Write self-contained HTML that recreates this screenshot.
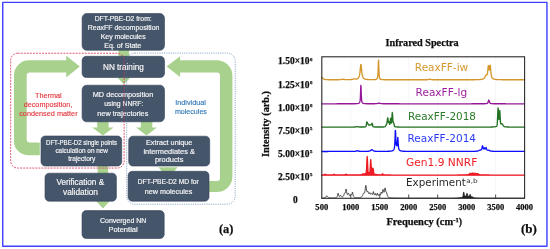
<!DOCTYPE html>
<html lang="en">
<head>
<meta charset="utf-8">
<title>Workflow and Infrared Spectra</title>
<style>
html,body{margin:0;padding:0;background:#fff;}
body{width:550px;height:249px;overflow:hidden;}
svg{display:block;}
.bt{font-family:"Liberation Sans", Arial, sans-serif;fill:#f6f6f6;text-anchor:middle;stroke:#f6f6f6;stroke-width:0.18px;}
.rt{font-family:"Liberation Sans", Arial, sans-serif;fill:#e3343c;text-anchor:middle;stroke:#e3343c;stroke-width:0.12px;}
.blt{font-family:"Liberation Sans", Arial, sans-serif;fill:#2e75b6;text-anchor:middle;stroke:#2e75b6;stroke-width:0.12px;}
.sf{font-family:"Liberation Serif", "Times New Roman", serif;font-weight:bold;fill:#111;stroke:#111;stroke-width:0.25px;}
.dj{font-family:"DejaVu Sans", Verdana, "Liberation Sans", sans-serif;}
</style>
</head>
<body>
<svg width="550" height="249" viewBox="0 0 550 249">
<rect x="0" y="0" width="550" height="249" fill="#ffffff"/>

<g id="fig" filter="url(#soft)">
<defs><filter id="soft" x="-2%" y="-2%" width="104%" height="104%"><feGaussianBlur stdDeviation="0.33"/></filter></defs>
<rect x="2.75" y="2.4" width="544.2" height="243.8" fill="none" stroke="#4040ff" stroke-width="1.4" stroke-linejoin="round"/>
<g fill="#a9d18e">
<path d="M39.8 155.2 H28 A14 14 0 0 1 14 141.2 V75.3 A15 15 0 0 1 29 60.3 H66.2 V55.7 L79.8 66.5 L66.2 77.4 V72.6 H29.7 A3 3 0 0 0 26.7 75.6 V139.4 A3 3 0 0 0 29.7 142.4 H39.8 Z"/>
<path d="M208 192.1 H216.8 A15.6 15.6 0 0 0 232.4 176.5 V75.9 A15.6 15.6 0 0 0 216.8 60.3 H180.1 V56.2 L166.6 66.5 L180.1 77.1 V72.6 H217 A3 3 0 0 1 220 75.6 V178 A3 3 0 0 1 217 181 H208 Z"/>
<rect x="118.5" y="49" width="10.6" height="8"/>
<path d="M117.2 77.5 H130.4 L123.8 84.3 Z"/>
<path d="M97.2 121 H108.6 V127.5 H113.6 L102.9 135.6 L92.2 127.5 H97.2 Z"/>
<path d="M140.8 121 H152.3 V127.5 H156.9 L146.5 135.6 L136 127.5 H140.8 Z"/>
<rect x="97.6" y="165" width="10.5" height="9"/>
<path d="M158.4 167.2 H177.7 L168 178.5 Z"/>
<path d="M96 201 H109.8 L103 208.6 Z"/>
</g>
<rect x="10.7" y="53.25" width="113.45" height="114.8" rx="7" ry="7" fill="none" stroke="#dc4260" stroke-width="0.9" stroke-dasharray="1.9 1.15"/>
<rect x="126.7" y="53.1" width="108.5" height="151.1" rx="8" ry="8" fill="none" stroke="#6a8fb8" stroke-width="0.75" stroke-dasharray="1.15 1.1"/>
<rect x="82.10" y="13.50" width="82.40" height="36.80" rx="4.7" ry="4.7" fill="#44546a" stroke="#36445a" stroke-width="0.6"/>
<rect x="82.10" y="56.30" width="82.40" height="21.20" rx="4.2" ry="4.2" fill="#44546a" stroke="#36445a" stroke-width="0.6"/>
<rect x="82.10" y="85.20" width="82.40" height="36.60" rx="4.7" ry="4.7" fill="#44546a" stroke="#36445a" stroke-width="0.6"/>
<rect x="41.00" y="136.00" width="80.70" height="30.00" rx="4.2" ry="4.2" fill="#44546a" stroke="#36445a" stroke-width="0.6"/>
<rect x="128.70" y="136.20" width="81.00" height="29.80" rx="4.2" ry="4.2" fill="#44546a" stroke="#36445a" stroke-width="0.6"/>
<rect x="45.00" y="173.20" width="71.40" height="28.00" rx="4.2" ry="4.2" fill="#44546a" stroke="#36445a" stroke-width="0.6"/>
<rect x="128.10" y="171.30" width="80.90" height="29.90" rx="4.2" ry="4.2" fill="#44546a" stroke="#36445a" stroke-width="0.6"/>
<rect x="82.00" y="210.60" width="82.20" height="27.90" rx="4.2" ry="4.2" fill="#44546a" stroke="#36445a" stroke-width="0.6"/>
<text class="bt" x="123.20" y="20.80" font-size="7.00" textLength="57.00" lengthAdjust="spacingAndGlyphs">DFT-PBE-D2 from:</text>
<text class="bt" x="123.60" y="30.00" font-size="7.00" textLength="71.60" lengthAdjust="spacingAndGlyphs">ReaxFF decomposition</text>
<text class="bt" x="123.15" y="39.10" font-size="7.00" textLength="44.90" lengthAdjust="spacingAndGlyphs">Key molecules</text>
<text class="bt" x="122.75" y="48.30" font-size="7.00" textLength="37.10" lengthAdjust="spacingAndGlyphs">Eq. of State</text>
<text class="bt" x="123.40" y="70.00" font-size="8.20" textLength="40.80" lengthAdjust="spacingAndGlyphs">NN training</text>
<text class="bt" x="123.00" y="97.20" font-size="7.20" textLength="60.40" lengthAdjust="spacingAndGlyphs">MD decomposition</text>
<text class="bt" x="123.80" y="106.30" font-size="7.20" textLength="39.00" lengthAdjust="spacingAndGlyphs">using NNRF:</text>
<text class="bt" x="122.80" y="115.60" font-size="7.20" textLength="51.00" lengthAdjust="spacingAndGlyphs">new trajectories</text>
<text class="bt" x="81.55" y="144.60" font-size="6.90" textLength="71.10" lengthAdjust="spacingAndGlyphs">DFT-PBE-D2 single points</text>
<text class="bt" x="81.70" y="153.00" font-size="6.90" textLength="52.60" lengthAdjust="spacingAndGlyphs">calculation on new</text>
<text class="bt" x="81.80" y="161.30" font-size="6.90" textLength="27.20" lengthAdjust="spacingAndGlyphs">trajectory</text>
<text class="bt" x="169.20" y="144.50" font-size="7.20" textLength="46.40" lengthAdjust="spacingAndGlyphs">Extract unique</text>
<text class="bt" x="169.15" y="153.50" font-size="7.20" textLength="51.50" lengthAdjust="spacingAndGlyphs">intermediates &amp;</text>
<text class="bt" x="169.15" y="162.20" font-size="7.20" textLength="28.50" lengthAdjust="spacingAndGlyphs">products</text>
<text class="bt" x="80.25" y="184.90" font-size="8.20" textLength="47.70" lengthAdjust="spacingAndGlyphs">Verification &amp;</text>
<text class="bt" x="80.45" y="194.80" font-size="8.20" textLength="34.90" lengthAdjust="spacingAndGlyphs">validation</text>
<text class="bt" x="168.25" y="184.40" font-size="7.20" textLength="60.90" lengthAdjust="spacingAndGlyphs">DFT-PBE-D2 MD for</text>
<text class="bt" x="168.55" y="193.60" font-size="7.20" textLength="47.70" lengthAdjust="spacingAndGlyphs">new molecules</text>
<text class="bt" x="123.20" y="223.00" font-size="7.00" textLength="46.40" lengthAdjust="spacingAndGlyphs">Converged NN</text>
<text class="bt" x="123.05" y="232.40" font-size="7.00" textLength="29.30" lengthAdjust="spacingAndGlyphs">Potential</text>
<text class="rt" x="48.35" y="98.10" font-size="7.20" textLength="26.70" lengthAdjust="spacingAndGlyphs">Thermal</text>
<text class="rt" x="48.05" y="107.00" font-size="7.20" textLength="48.70" lengthAdjust="spacingAndGlyphs">decomposition,</text>
<text class="rt" x="48.40" y="115.60" font-size="7.20" textLength="58.40" lengthAdjust="spacingAndGlyphs">condensed matter</text>
<text class="blt" x="190.60" y="104.70" font-size="7.00" textLength="30.80" lengthAdjust="spacingAndGlyphs">Individual</text>
<text class="blt" x="190.90" y="113.90" font-size="7.00" textLength="32.00" lengthAdjust="spacingAndGlyphs">molecules</text>
<clipPath id="bx"><rect x="81.8" y="13.2" width="83.0" height="37.4" rx="5.0"/><rect x="81.8" y="56.0" width="83.0" height="21.8" rx="4.5"/><rect x="81.8" y="84.9" width="83.0" height="37.2" rx="5.0"/><rect x="40.7" y="135.7" width="81.3" height="30.6" rx="4.5"/><rect x="128.4" y="135.9" width="81.6" height="30.4" rx="4.5"/><rect x="44.7" y="172.9" width="72.0" height="28.6" rx="4.5"/><rect x="127.8" y="171.0" width="81.5" height="30.5" rx="4.5"/><rect x="81.7" y="210.3" width="82.8" height="28.5" rx="4.5"/></clipPath>
<g clip-path="url(#bx)">
<rect x="10.7" y="53.25" width="113.45" height="114.8" rx="7" ry="7" fill="none" stroke="#dc4260" stroke-width="0.9" stroke-dasharray="1.9 1.15" opacity="0.7"/>
<rect x="126.7" y="53.1" width="108.5" height="151.1" rx="8" ry="8" fill="none" stroke="#6a8fb8" stroke-width="0.75" stroke-dasharray="1.15 1.1" opacity="0.5"/>
</g>
<text class="sf" x="218.9" y="232.5" font-size="12.6" textLength="14.5" lengthAdjust="spacingAndGlyphs">(a)</text>
<text class="sf" x="520.9" y="232.5" font-size="12.9" textLength="16.0" lengthAdjust="spacingAndGlyphs">(b)</text>
<line x1="350.77" y1="56.8" x2="350.77" y2="198.3" stroke="#f4f4f8" stroke-width="0.7"/>
<line x1="379.74" y1="56.8" x2="379.74" y2="198.3" stroke="#f4f4f8" stroke-width="0.7"/>
<line x1="408.71" y1="56.8" x2="408.71" y2="198.3" stroke="#f4f4f8" stroke-width="0.7"/>
<line x1="437.69" y1="56.8" x2="437.69" y2="198.3" stroke="#f4f4f8" stroke-width="0.7"/>
<line x1="466.66" y1="56.8" x2="466.66" y2="198.3" stroke="#f4f4f8" stroke-width="0.7"/>
<line x1="495.63" y1="56.8" x2="495.63" y2="198.3" stroke="#f4f4f8" stroke-width="0.7"/>
<g fill="none" stroke-linejoin="round" stroke-linecap="round">
<path d="M321.80 77.29 L322.05 77.39 L322.30 77.66 L322.55 77.99 L322.80 78.31 L323.05 78.59 L323.30 78.81 L323.55 78.99 L323.80 79.12 L324.05 79.23 L324.30 79.32 L324.55 79.38 L324.80 79.44 L325.05 79.48 L325.30 79.52 L325.55 79.55 L325.80 79.58 L326.05 79.60 L326.30 79.62 L326.55 79.63 L326.80 79.65 L327.05 79.66 L327.30 79.67 L327.55 79.68 L327.80 79.68 L328.05 79.69 L328.30 79.70 L328.55 79.70 L328.80 79.71 L329.05 79.71 L329.30 79.72 L329.55 79.72 L329.80 79.72 L330.05 79.72 L330.30 79.73 L330.55 79.73 L330.80 79.73 L331.05 79.73 L331.30 79.73 L331.55 79.74 L331.80 79.74 L332.05 79.74 L332.30 79.74 L332.55 79.74 L332.80 79.74 L333.05 79.74 L333.30 79.74 L333.55 79.74 L333.80 79.74 L334.05 79.74 L334.30 79.74 L334.55 79.74 L334.80 79.74 L335.05 79.74 L335.30 79.74 L335.55 79.74 L335.80 79.73 L336.05 79.73 L336.30 79.73 L336.55 79.73 L336.80 79.73 L337.05 79.73 L337.30 79.72 L337.55 79.72 L337.80 79.72 L338.05 79.71 L338.30 79.71 L338.55 79.70 L338.80 79.70 L339.05 79.69 L339.30 79.68 L339.55 79.67 L339.80 79.66 L340.05 79.65 L340.30 79.63 L340.55 79.61 L340.80 79.59 L341.05 79.56 L341.30 79.53 L341.55 79.49 L341.80 79.44 L342.05 79.39 L342.30 79.33 L342.55 79.28 L342.80 79.25 L343.05 79.24 L343.30 79.26 L343.55 79.30 L343.80 79.34 L344.05 79.40 L344.30 79.44 L344.55 79.49 L344.80 79.52 L345.05 79.55 L345.30 79.57 L345.55 79.59 L345.80 79.60 L346.05 79.62 L346.30 79.62 L346.55 79.63 L346.80 79.64 L347.05 79.64 L347.30 79.64 L347.55 79.64 L347.80 79.64 L348.05 79.64 L348.30 79.64 L348.55 79.63 L348.80 79.63 L349.05 79.62 L349.30 79.62 L349.55 79.61 L349.80 79.60 L350.05 79.59 L350.30 79.58 L350.55 79.56 L350.80 79.54 L351.05 79.52 L351.30 79.50 L351.55 79.47 L351.80 79.44 L352.05 79.40 L352.30 79.35 L352.55 79.29 L352.80 79.23 L353.05 79.15 L353.30 79.07 L353.55 79.00 L353.80 78.95 L354.05 78.92 L354.30 78.92 L354.55 78.95 L354.80 78.99 L355.05 79.02 L355.30 79.05 L355.55 79.07 L355.80 79.07 L356.05 79.06 L356.30 79.03 L356.55 78.99 L356.80 78.94 L357.05 78.87 L357.30 78.77 L357.55 78.65 L357.80 78.50 L358.05 78.31 L358.30 78.06 L358.55 77.74 L358.80 77.33 L359.05 76.77 L359.30 76.02 L359.55 74.98 L359.80 73.53 L360.05 71.56 L360.30 69.02 L360.55 66.29 L360.80 64.45 L361.05 64.68 L361.30 66.82 L361.55 69.58 L361.80 72.01 L362.05 73.88 L362.30 75.23 L362.55 76.21 L362.80 76.93 L363.05 77.46 L363.30 77.86 L363.55 78.17 L363.80 78.41 L364.05 78.60 L364.30 78.75 L364.55 78.88 L364.80 78.99 L365.05 79.07 L365.30 79.15 L365.55 79.21 L365.80 79.26 L366.05 79.31 L366.30 79.35 L366.55 79.39 L366.80 79.42 L367.05 79.44 L367.30 79.47 L367.55 79.49 L367.80 79.51 L368.05 79.52 L368.30 79.54 L368.55 79.55 L368.80 79.56 L369.05 79.58 L369.30 79.58 L369.55 79.59 L369.80 79.60 L370.05 79.61 L370.30 79.61 L370.55 79.62 L370.80 79.62 L371.05 79.63 L371.30 79.63 L371.55 79.63 L371.80 79.63 L372.05 79.63 L372.30 79.63 L372.55 79.63 L372.80 79.63 L373.05 79.63 L373.30 79.62 L373.55 79.61 L373.80 79.61 L374.05 79.60 L374.30 79.59 L374.55 79.57 L374.80 79.55 L375.05 79.53 L375.30 79.50 L375.55 79.46 L375.80 79.41 L376.05 79.34 L376.30 79.25 L376.55 79.12 L376.80 78.93 L377.05 78.64 L377.30 78.18 L377.55 77.36 L377.80 75.75 L378.05 72.21 L378.30 64.68 L378.55 60.15 L378.80 68.23 L379.05 73.99 L379.30 76.54 L379.55 77.76 L379.80 78.41 L380.05 78.79 L380.30 79.03 L380.55 79.20 L380.80 79.31 L381.05 79.39 L381.30 79.46 L381.55 79.51 L381.80 79.54 L382.05 79.57 L382.30 79.60 L382.55 79.62 L382.80 79.64 L383.05 79.65 L383.30 79.66 L383.55 79.67 L383.80 79.68 L384.05 79.69 L384.30 79.70 L384.55 79.71 L384.80 79.71 L385.05 79.72 L385.30 79.72 L385.55 79.73 L385.80 79.73 L386.05 79.73 L386.30 79.74 L386.55 79.74 L386.80 79.74 L387.05 79.74 L387.30 79.75 L387.55 79.75 L387.80 79.75 L388.05 79.75 L388.30 79.75 L388.55 79.75 L388.80 79.76 L389.05 79.76 L389.30 79.76 L389.55 79.76 L389.80 79.76 L390.05 79.76 L390.30 79.76 L390.55 79.76 L390.80 79.77 L391.05 79.77 L391.30 79.77 L391.55 79.77 L391.80 79.77 L392.05 79.77 L392.30 79.77 L392.55 79.77 L392.80 79.77 L393.05 79.77 L393.30 79.77 L393.55 79.77 L393.80 79.77 L394.05 79.77 L394.30 79.77 L394.55 79.77 L394.80 79.78 L395.05 79.78 L395.30 79.78 L395.55 79.78 L395.80 79.78 L396.05 79.78 L396.30 79.78 L396.55 79.78 L396.80 79.78 L397.05 79.78 L397.30 79.78 L397.55 79.78 L397.80 79.78 L398.05 79.78 L398.30 79.78 L398.55 79.78 L398.80 79.78 L399.05 79.78 L399.30 79.78 L399.55 79.78 L399.80 79.78 L400.05 79.78 L400.30 79.78 L400.55 79.78 L400.80 79.78 L401.05 79.78 L401.30 79.78 L401.55 79.78 L401.80 79.78 L402.05 79.78 L402.30 79.78 L402.55 79.78 L402.80 79.78 L403.05 79.78 L403.30 79.78 L403.55 79.78 L403.80 79.78 L404.05 79.78 L404.30 79.78 L404.55 79.78 L404.80 79.79 L405.05 79.79 L405.30 79.79 L405.55 79.79 L405.80 79.79 L406.05 79.79 L406.30 79.79 L406.55 79.79 L406.80 79.79 L407.05 79.79 L407.30 79.79 L407.55 79.79 L407.80 79.79 L408.05 79.79 L408.30 79.79 L408.55 79.79 L408.80 79.79 L409.05 79.79 L409.30 79.79 L409.55 79.79 L409.80 79.79 L410.05 79.79 L410.30 79.79 L410.55 79.79 L410.80 79.79 L411.05 79.79 L411.30 79.79 L411.55 79.79 L411.80 79.79 L412.05 79.79 L412.30 79.79 L412.55 79.79 L412.80 79.79 L413.05 79.79 L413.30 79.79 L413.55 79.79 L413.80 79.79 L414.05 79.79 L414.30 79.79 L414.55 79.79 L414.80 79.79 L415.05 79.79 L415.30 79.79 L415.55 79.79 L415.80 79.79 L416.05 79.79 L416.30 79.79 L416.55 79.79 L416.80 79.79 L417.05 79.79 L417.30 79.79 L417.55 79.79 L417.80 79.79 L418.05 79.79 L418.30 79.78 L418.55 79.78 L418.80 79.78 L419.05 79.78 L419.30 79.78 L419.55 79.78 L419.80 79.78 L420.05 79.78 L420.30 79.78 L420.55 79.78 L420.80 79.78 L421.05 79.78 L421.30 79.78 L421.55 79.78 L421.80 79.78 L422.05 79.78 L422.30 79.78 L422.55 79.78 L422.80 79.78 L423.05 79.78 L423.30 79.77 L423.55 79.77 L423.80 79.77 L424.05 79.77 L424.30 79.77 L424.55 79.77 L424.80 79.76 L425.05 79.76 L425.30 79.76 L425.55 79.75 L425.80 79.75 L426.05 79.74 L426.30 79.74 L426.55 79.73 L426.80 79.72 L427.05 79.70 L427.30 79.69 L427.55 79.67 L427.80 79.64 L428.05 79.60 L428.30 79.55 L428.55 79.49 L428.80 79.40 L429.05 79.30 L429.30 79.19 L429.55 79.11 L429.80 79.10 L430.05 79.17 L430.30 79.28 L430.55 79.38 L430.80 79.47 L431.05 79.54 L431.30 79.59 L431.55 79.63 L431.80 79.66 L432.05 79.68 L432.30 79.70 L432.55 79.71 L432.80 79.72 L433.05 79.73 L433.30 79.74 L433.55 79.75 L433.80 79.75 L434.05 79.76 L434.30 79.76 L434.55 79.76 L434.80 79.76 L435.05 79.77 L435.30 79.77 L435.55 79.77 L435.80 79.77 L436.05 79.77 L436.30 79.77 L436.55 79.78 L436.80 79.78 L437.05 79.78 L437.30 79.78 L437.55 79.78 L437.80 79.78 L438.05 79.78 L438.30 79.78 L438.55 79.78 L438.80 79.78 L439.05 79.78 L439.30 79.78 L439.55 79.78 L439.80 79.78 L440.05 79.78 L440.30 79.78 L440.55 79.78 L440.80 79.78 L441.05 79.78 L441.30 79.78 L441.55 79.78 L441.80 79.78 L442.05 79.78 L442.30 79.78 L442.55 79.78 L442.80 79.78 L443.05 79.78 L443.30 79.78 L443.55 79.78 L443.80 79.78 L444.05 79.78 L444.30 79.78 L444.55 79.78 L444.80 79.78 L445.05 79.78 L445.30 79.78 L445.55 79.78 L445.80 79.78 L446.05 79.78 L446.30 79.78 L446.55 79.78 L446.80 79.78 L447.05 79.78 L447.30 79.78 L447.55 79.78 L447.80 79.78 L448.05 79.78 L448.30 79.78 L448.55 79.78 L448.80 79.78 L449.05 79.78 L449.30 79.78 L449.55 79.78 L449.80 79.78 L450.05 79.78 L450.30 79.78 L450.55 79.78 L450.80 79.78 L451.05 79.78 L451.30 79.78 L451.55 79.78 L451.80 79.78 L452.05 79.78 L452.30 79.78 L452.55 79.78 L452.80 79.78 L453.05 79.78 L453.30 79.78 L453.55 79.78 L453.80 79.78 L454.05 79.78 L454.30 79.78 L454.55 79.78 L454.80 79.78 L455.05 79.78 L455.30 79.78 L455.55 79.78 L455.80 79.78 L456.05 79.78 L456.30 79.78 L456.55 79.78 L456.80 79.78 L457.05 79.78 L457.30 79.78 L457.55 79.78 L457.80 79.78 L458.05 79.78 L458.30 79.78 L458.55 79.78 L458.80 79.78 L459.05 79.78 L459.30 79.78 L459.55 79.78 L459.80 79.78 L460.05 79.78 L460.30 79.78 L460.55 79.77 L460.80 79.77 L461.05 79.77 L461.30 79.77 L461.55 79.77 L461.80 79.77 L462.05 79.77 L462.30 79.77 L462.55 79.77 L462.80 79.77 L463.05 79.77 L463.30 79.77 L463.55 79.77 L463.80 79.77 L464.05 79.77 L464.30 79.77 L464.55 79.77 L464.80 79.77 L465.05 79.77 L465.30 79.76 L465.55 79.76 L465.80 79.76 L466.05 79.76 L466.30 79.76 L466.55 79.76 L466.80 79.76 L467.05 79.76 L467.30 79.76 L467.55 79.76 L467.80 79.76 L468.05 79.76 L468.30 79.75 L468.55 79.75 L468.80 79.75 L469.05 79.75 L469.30 79.75 L469.55 79.75 L469.80 79.75 L470.05 79.75 L470.30 79.74 L470.55 79.74 L470.80 79.74 L471.05 79.74 L471.30 79.74 L471.55 79.74 L471.80 79.73 L472.05 79.73 L472.30 79.73 L472.55 79.73 L472.80 79.72 L473.05 79.72 L473.30 79.72 L473.55 79.72 L473.80 79.71 L474.05 79.71 L474.30 79.71 L474.55 79.70 L474.80 79.70 L475.05 79.70 L475.30 79.69 L475.55 79.69 L475.80 79.68 L476.05 79.68 L476.30 79.67 L476.55 79.67 L476.80 79.66 L477.05 79.65 L477.30 79.65 L477.55 79.64 L477.80 79.63 L478.05 79.62 L478.30 79.61 L478.55 79.60 L478.80 79.59 L479.05 79.58 L479.30 79.57 L479.55 79.55 L479.80 79.53 L480.05 79.52 L480.30 79.50 L480.55 79.47 L480.80 79.45 L481.05 79.42 L481.30 79.39 L481.55 79.35 L481.80 79.31 L482.05 79.26 L482.30 79.21 L482.55 79.14 L482.80 79.07 L483.05 78.98 L483.30 78.87 L483.55 78.73 L483.80 78.57 L484.05 78.37 L484.30 78.11 L484.55 77.80 L484.80 77.40 L485.05 76.91 L485.30 76.34 L485.55 75.76 L485.80 75.26 L486.05 74.97 L486.30 74.90 L486.55 74.94 L486.80 74.92 L487.05 74.66 L487.30 74.01 L487.55 72.79 L487.80 70.78 L488.05 68.06 L488.30 65.74 L488.55 65.71 L488.80 67.61 L489.05 69.37 L489.30 69.97 L489.55 69.21 L489.80 67.28 L490.05 65.26 L490.30 65.37 L490.55 68.02 L490.80 71.16 L491.05 73.58 L491.30 75.22 L491.55 76.32 L491.80 77.08 L492.05 77.61 L492.30 78.00 L492.55 78.29 L492.80 78.52 L493.05 78.69 L493.30 78.84 L493.55 78.95 L493.80 79.05 L494.05 79.13 L494.30 79.19 L494.55 79.25 L494.80 79.30 L495.05 79.34 L495.30 79.38 L495.55 79.41 L495.80 79.44 L496.05 79.47 L496.30 79.49 L496.55 79.51 L496.80 79.53 L497.05 79.55 L497.30 79.56 L497.55 79.57 L497.80 79.59 L498.05 79.60 L498.30 79.61 L498.55 79.62 L498.80 79.63 L499.05 79.64 L499.30 79.64 L499.55 79.65 L499.80 79.66 L500.05 79.66 L500.30 79.67 L500.55 79.68 L500.80 79.68 L501.05 79.69 L501.30 79.69 L501.55 79.69 L501.80 79.70 L502.05 79.70 L502.30 79.71 L502.55 79.71 L502.80 79.71 L503.05 79.72 L503.30 79.72 L503.55 79.72 L503.80 79.72 L504.05 79.73 L504.30 79.73 L504.55 79.73 L504.80 79.73 L505.05 79.74 L505.30 79.74 L505.55 79.74 L505.80 79.74 L506.05 79.74 L506.30 79.74 L506.55 79.75 L506.80 79.75 L507.05 79.75 L507.30 79.75 L507.55 79.75 L507.80 79.75 L508.05 79.75 L508.30 79.75 L508.55 79.76 L508.80 79.76 L509.05 79.76 L509.30 79.76 L509.55 79.76 L509.80 79.76 L510.05 79.76 L510.30 79.76 L510.55 79.76 L510.80 79.76 L511.05 79.76 L511.30 79.77 L511.55 79.77 L511.80 79.77 L512.05 79.77 L512.30 79.77 L512.55 79.77 L512.80 79.77 L513.05 79.77 L513.30 79.77 L513.55 79.77 L513.80 79.77 L514.05 79.77 L514.30 79.77 L514.55 79.77 L514.80 79.77 L515.05 79.77 L515.30 79.77 L515.55 79.78 L515.80 79.78 L516.05 79.78 L516.30 79.78 L516.55 79.78 L516.80 79.78 L517.05 79.78 L517.30 79.78 L517.55 79.78 L517.80 79.78 L518.05 79.78 L518.30 79.78 L518.55 79.78 L518.80 79.78 L519.05 79.78 L519.30 79.78 L519.55 79.78 L519.80 79.78 L520.05 79.78 L520.30 79.78 L520.55 79.78 L520.80 79.78 L521.05 79.78 L521.30 79.78 L521.55 79.78 L521.80 79.78 L522.05 79.78 L522.30 79.78 L522.55 79.78 L522.80 79.78 L523.05 79.78 L523.30 79.78 L523.55 79.79 L523.80 79.79 L524.05 79.79 L524.30 79.79 L524.55 79.79" stroke="#d4952a" stroke-width="1.35"/>
<path d="M321.80 103.80 L322.05 103.80 L322.30 103.80 L322.55 103.80 L322.80 103.80 L323.05 103.80 L323.30 103.80 L323.55 103.80 L323.80 103.80 L324.05 103.80 L324.30 103.80 L324.55 103.80 L324.80 103.80 L325.05 103.80 L325.30 103.80 L325.55 103.80 L325.80 103.80 L326.05 103.80 L326.30 103.80 L326.55 103.80 L326.80 103.80 L327.05 103.80 L327.30 103.80 L327.55 103.80 L327.80 103.80 L328.05 103.80 L328.30 103.80 L328.55 103.80 L328.80 103.80 L329.05 103.80 L329.30 103.80 L329.55 103.80 L329.80 103.80 L330.05 103.80 L330.30 103.80 L330.55 103.80 L330.80 103.80 L331.05 103.80 L331.30 103.80 L331.55 103.80 L331.80 103.80 L332.05 103.80 L332.30 103.80 L332.55 103.80 L332.80 103.80 L333.05 103.80 L333.30 103.80 L333.55 103.80 L333.80 103.80 L334.05 103.80 L334.30 103.80 L334.55 103.80 L334.80 103.80 L335.05 103.80 L335.30 103.80 L335.55 103.80 L335.80 103.80 L336.05 103.80 L336.30 103.80 L336.55 103.80 L336.80 103.79 L337.05 103.79 L337.30 103.79 L337.55 103.79 L337.80 103.79 L338.05 103.79 L338.30 103.79 L338.55 103.79 L338.80 103.79 L339.05 103.79 L339.30 103.79 L339.55 103.79 L339.80 103.79 L340.05 103.79 L340.30 103.79 L340.55 103.79 L340.80 103.79 L341.05 103.79 L341.30 103.79 L341.55 103.79 L341.80 103.79 L342.05 103.79 L342.30 103.79 L342.55 103.79 L342.80 103.79 L343.05 103.79 L343.30 103.79 L343.55 103.79 L343.80 103.79 L344.05 103.79 L344.30 103.79 L344.55 103.79 L344.80 103.79 L345.05 103.79 L345.30 103.79 L345.55 103.79 L345.80 103.79 L346.05 103.79 L346.30 103.79 L346.55 103.79 L346.80 103.79 L347.05 103.79 L347.30 103.79 L347.55 103.78 L347.80 103.78 L348.05 103.78 L348.30 103.78 L348.55 103.78 L348.80 103.78 L349.05 103.78 L349.30 103.78 L349.55 103.78 L349.80 103.78 L350.05 103.78 L350.30 103.78 L350.55 103.78 L350.80 103.77 L351.05 103.77 L351.30 103.77 L351.55 103.77 L351.80 103.77 L352.05 103.77 L352.30 103.76 L352.55 103.76 L352.80 103.76 L353.05 103.76 L353.30 103.76 L353.55 103.75 L353.80 103.75 L354.05 103.75 L354.30 103.74 L354.55 103.74 L354.80 103.73 L355.05 103.73 L355.30 103.72 L355.55 103.71 L355.80 103.70 L356.05 103.69 L356.30 103.68 L356.55 103.67 L356.80 103.65 L357.05 103.63 L357.30 103.61 L357.55 103.58 L357.80 103.55 L358.05 103.50 L358.30 103.44 L358.55 103.36 L358.80 103.26 L359.05 103.11 L359.30 102.88 L359.55 102.54 L359.80 101.96 L360.05 100.90 L360.30 98.72 L360.55 93.80 L360.80 85.31 L361.05 86.90 L361.30 95.12 L361.55 99.30 L361.80 101.17 L362.05 102.10 L362.30 102.62 L362.55 102.93 L362.80 103.14 L363.05 103.28 L363.30 103.38 L363.55 103.45 L363.80 103.51 L364.05 103.55 L364.30 103.58 L364.55 103.61 L364.80 103.63 L365.05 103.65 L365.30 103.67 L365.55 103.68 L365.80 103.69 L366.05 103.70 L366.30 103.71 L366.55 103.71 L366.80 103.72 L367.05 103.73 L367.30 103.73 L367.55 103.73 L367.80 103.74 L368.05 103.74 L368.30 103.74 L368.55 103.75 L368.80 103.75 L369.05 103.75 L369.30 103.75 L369.55 103.75 L369.80 103.75 L370.05 103.75 L370.30 103.75 L370.55 103.76 L370.80 103.76 L371.05 103.76 L371.30 103.76 L371.55 103.75 L371.80 103.75 L372.05 103.75 L372.30 103.75 L372.55 103.75 L372.80 103.75 L373.05 103.75 L373.30 103.75 L373.55 103.74 L373.80 103.74 L374.05 103.74 L374.30 103.73 L374.55 103.73 L374.80 103.72 L375.05 103.71 L375.30 103.70 L375.55 103.69 L375.80 103.68 L376.05 103.67 L376.30 103.65 L376.55 103.63 L376.80 103.60 L377.05 103.57 L377.30 103.53 L377.55 103.48 L377.80 103.43 L378.05 103.36 L378.30 103.30 L378.55 103.24 L378.80 103.20 L379.05 103.19 L379.30 103.22 L379.55 103.26 L379.80 103.33 L380.05 103.39 L380.30 103.45 L380.55 103.50 L380.80 103.55 L381.05 103.58 L381.30 103.61 L381.55 103.64 L381.80 103.66 L382.05 103.68 L382.30 103.69 L382.55 103.70 L382.80 103.71 L383.05 103.72 L383.30 103.73 L383.55 103.74 L383.80 103.74 L384.05 103.75 L384.30 103.75 L384.55 103.75 L384.80 103.76 L385.05 103.76 L385.30 103.76 L385.55 103.77 L385.80 103.77 L386.05 103.77 L386.30 103.77 L386.55 103.77 L386.80 103.77 L387.05 103.78 L387.30 103.78 L387.55 103.78 L387.80 103.78 L388.05 103.78 L388.30 103.78 L388.55 103.78 L388.80 103.78 L389.05 103.78 L389.30 103.78 L389.55 103.78 L389.80 103.79 L390.05 103.79 L390.30 103.79 L390.55 103.79 L390.80 103.79 L391.05 103.79 L391.30 103.79 L391.55 103.79 L391.80 103.79 L392.05 103.79 L392.30 103.79 L392.55 103.79 L392.80 103.79 L393.05 103.79 L393.30 103.79 L393.55 103.79 L393.80 103.79 L394.05 103.79 L394.30 103.79 L394.55 103.79 L394.80 103.79 L395.05 103.79 L395.30 103.79 L395.55 103.79 L395.80 103.79 L396.05 103.79 L396.30 103.79 L396.55 103.79 L396.80 103.79 L397.05 103.79 L397.30 103.79 L397.55 103.79 L397.80 103.79 L398.05 103.79 L398.30 103.79 L398.55 103.79 L398.80 103.79 L399.05 103.79 L399.30 103.79 L399.55 103.80 L399.80 103.80 L400.05 103.80 L400.30 103.80 L400.55 103.80 L400.80 103.80 L401.05 103.80 L401.30 103.80 L401.55 103.80 L401.80 103.80 L402.05 103.80 L402.30 103.80 L402.55 103.80 L402.80 103.80 L403.05 103.80 L403.30 103.80 L403.55 103.80 L403.80 103.80 L404.05 103.80 L404.30 103.80 L404.55 103.80 L404.80 103.80 L405.05 103.80 L405.30 103.80 L405.55 103.80 L405.80 103.80 L406.05 103.80 L406.30 103.80 L406.55 103.80 L406.80 103.80 L407.05 103.80 L407.30 103.80 L407.55 103.80 L407.80 103.80 L408.05 103.80 L408.30 103.80 L408.55 103.80 L408.80 103.80 L409.05 103.80 L409.30 103.80 L409.55 103.80 L409.80 103.80 L410.05 103.80 L410.30 103.80 L410.55 103.80 L410.80 103.80 L411.05 103.80 L411.30 103.80 L411.55 103.80 L411.80 103.80 L412.05 103.80 L412.30 103.80 L412.55 103.80 L412.80 103.80 L413.05 103.80 L413.30 103.80 L413.55 103.80 L413.80 103.80 L414.05 103.80 L414.30 103.80 L414.55 103.80 L414.80 103.80 L415.05 103.80 L415.30 103.80 L415.55 103.80 L415.80 103.80 L416.05 103.80 L416.30 103.80 L416.55 103.80 L416.80 103.80 L417.05 103.80 L417.30 103.80 L417.55 103.80 L417.80 103.80 L418.05 103.80 L418.30 103.80 L418.55 103.80 L418.80 103.80 L419.05 103.80 L419.30 103.80 L419.55 103.80 L419.80 103.80 L420.05 103.80 L420.30 103.80 L420.55 103.80 L420.80 103.80 L421.05 103.80 L421.30 103.80 L421.55 103.80 L421.80 103.80 L422.05 103.80 L422.30 103.80 L422.55 103.80 L422.80 103.80 L423.05 103.80 L423.30 103.80 L423.55 103.80 L423.80 103.80 L424.05 103.80 L424.30 103.80 L424.55 103.80 L424.80 103.80 L425.05 103.80 L425.30 103.80 L425.55 103.80 L425.80 103.80 L426.05 103.80 L426.30 103.80 L426.55 103.80 L426.80 103.80 L427.05 103.80 L427.30 103.80 L427.55 103.80 L427.80 103.80 L428.05 103.80 L428.30 103.80 L428.55 103.80 L428.80 103.80 L429.05 103.80 L429.30 103.80 L429.55 103.80 L429.80 103.80 L430.05 103.80 L430.30 103.80 L430.55 103.80 L430.80 103.80 L431.05 103.80 L431.30 103.80 L431.55 103.80 L431.80 103.80 L432.05 103.80 L432.30 103.80 L432.55 103.80 L432.80 103.80 L433.05 103.80 L433.30 103.80 L433.55 103.80 L433.80 103.80 L434.05 103.80 L434.30 103.80 L434.55 103.80 L434.80 103.80 L435.05 103.80 L435.30 103.80 L435.55 103.80 L435.80 103.80 L436.05 103.80 L436.30 103.80 L436.55 103.80 L436.80 103.80 L437.05 103.80 L437.30 103.80 L437.55 103.80 L437.80 103.80 L438.05 103.80 L438.30 103.80 L438.55 103.80 L438.80 103.80 L439.05 103.80 L439.30 103.80 L439.55 103.80 L439.80 103.80 L440.05 103.80 L440.30 103.80 L440.55 103.80 L440.80 103.80 L441.05 103.80 L441.30 103.80 L441.55 103.80 L441.80 103.80 L442.05 103.80 L442.30 103.80 L442.55 103.80 L442.80 103.80 L443.05 103.80 L443.30 103.80 L443.55 103.80 L443.80 103.80 L444.05 103.80 L444.30 103.80 L444.55 103.80 L444.80 103.80 L445.05 103.80 L445.30 103.80 L445.55 103.80 L445.80 103.80 L446.05 103.80 L446.30 103.80 L446.55 103.80 L446.80 103.80 L447.05 103.80 L447.30 103.80 L447.55 103.80 L447.80 103.80 L448.05 103.80 L448.30 103.80 L448.55 103.80 L448.80 103.80 L449.05 103.80 L449.30 103.80 L449.55 103.80 L449.80 103.80 L450.05 103.80 L450.30 103.80 L450.55 103.80 L450.80 103.80 L451.05 103.80 L451.30 103.80 L451.55 103.80 L451.80 103.80 L452.05 103.80 L452.30 103.80 L452.55 103.80 L452.80 103.80 L453.05 103.80 L453.30 103.80 L453.55 103.80 L453.80 103.80 L454.05 103.80 L454.30 103.80 L454.55 103.80 L454.80 103.80 L455.05 103.80 L455.30 103.80 L455.55 103.80 L455.80 103.80 L456.05 103.80 L456.30 103.80 L456.55 103.80 L456.80 103.80 L457.05 103.80 L457.30 103.80 L457.55 103.80 L457.80 103.80 L458.05 103.80 L458.30 103.80 L458.55 103.80 L458.80 103.80 L459.05 103.80 L459.30 103.80 L459.55 103.80 L459.80 103.80 L460.05 103.80 L460.30 103.80 L460.55 103.80 L460.80 103.80 L461.05 103.80 L461.30 103.80 L461.55 103.80 L461.80 103.80 L462.05 103.80 L462.30 103.80 L462.55 103.80 L462.80 103.80 L463.05 103.80 L463.30 103.80 L463.55 103.80 L463.80 103.80 L464.05 103.80 L464.30 103.80 L464.55 103.80 L464.80 103.80 L465.05 103.80 L465.30 103.80 L465.55 103.80 L465.80 103.80 L466.05 103.80 L466.30 103.80 L466.55 103.80 L466.80 103.80 L467.05 103.80 L467.30 103.80 L467.55 103.80 L467.80 103.80 L468.05 103.80 L468.30 103.80 L468.55 103.80 L468.80 103.80 L469.05 103.80 L469.30 103.80 L469.55 103.80 L469.80 103.80 L470.05 103.80 L470.30 103.80 L470.55 103.80 L470.80 103.80 L471.05 103.80 L471.30 103.80 L471.55 103.80 L471.80 103.79 L472.05 103.79 L472.30 103.79 L472.55 103.79 L472.80 103.79 L473.05 103.79 L473.30 103.79 L473.55 103.79 L473.80 103.79 L474.05 103.79 L474.30 103.79 L474.55 103.79 L474.80 103.79 L475.05 103.79 L475.30 103.79 L475.55 103.79 L475.80 103.79 L476.05 103.79 L476.30 103.79 L476.55 103.79 L476.80 103.79 L477.05 103.79 L477.30 103.79 L477.55 103.79 L477.80 103.79 L478.05 103.79 L478.30 103.79 L478.55 103.79 L478.80 103.79 L479.05 103.79 L479.30 103.78 L479.55 103.78 L479.80 103.78 L480.05 103.78 L480.30 103.78 L480.55 103.78 L480.80 103.78 L481.05 103.78 L481.30 103.78 L481.55 103.77 L481.80 103.77 L482.05 103.77 L482.30 103.77 L482.55 103.77 L482.80 103.76 L483.05 103.76 L483.30 103.76 L483.55 103.75 L483.80 103.75 L484.05 103.74 L484.30 103.73 L484.55 103.73 L484.80 103.72 L485.05 103.70 L485.30 103.69 L485.55 103.67 L485.80 103.65 L486.05 103.63 L486.30 103.59 L486.55 103.55 L486.80 103.49 L487.05 103.40 L487.30 103.28 L487.55 103.09 L487.80 102.79 L488.05 102.32 L488.30 101.56 L488.55 100.56 L488.80 100.00 L489.05 100.56 L489.30 101.56 L489.55 102.32 L489.80 102.79 L490.05 103.09 L490.30 103.28 L490.55 103.40 L490.80 103.49 L491.05 103.55 L491.30 103.59 L491.55 103.63 L491.80 103.65 L492.05 103.67 L492.30 103.69 L492.55 103.70 L492.80 103.72 L493.05 103.73 L493.30 103.73 L493.55 103.74 L493.80 103.75 L494.05 103.75 L494.30 103.76 L494.55 103.76 L494.80 103.76 L495.05 103.77 L495.30 103.77 L495.55 103.77 L495.80 103.77 L496.05 103.77 L496.30 103.78 L496.55 103.78 L496.80 103.78 L497.05 103.78 L497.30 103.78 L497.55 103.78 L497.80 103.78 L498.05 103.78 L498.30 103.78 L498.55 103.79 L498.80 103.79 L499.05 103.79 L499.30 103.79 L499.55 103.79 L499.80 103.79 L500.05 103.79 L500.30 103.79 L500.55 103.79 L500.80 103.79 L501.05 103.79 L501.30 103.79 L501.55 103.79 L501.80 103.79 L502.05 103.79 L502.30 103.79 L502.55 103.79 L502.80 103.79 L503.05 103.79 L503.30 103.79 L503.55 103.79 L503.80 103.79 L504.05 103.79 L504.30 103.79 L504.55 103.79 L504.80 103.79 L505.05 103.79 L505.30 103.79 L505.55 103.79 L505.80 103.80 L506.05 103.80 L506.30 103.80 L506.55 103.80 L506.80 103.80 L507.05 103.80 L507.30 103.80 L507.55 103.80 L507.80 103.80 L508.05 103.80 L508.30 103.80 L508.55 103.80 L508.80 103.80 L509.05 103.80 L509.30 103.80 L509.55 103.80 L509.80 103.80 L510.05 103.80 L510.30 103.80 L510.55 103.80 L510.80 103.80 L511.05 103.80 L511.30 103.80 L511.55 103.80 L511.80 103.80 L512.05 103.80 L512.30 103.80 L512.55 103.80 L512.80 103.80 L513.05 103.80 L513.30 103.80 L513.55 103.80 L513.80 103.80 L514.05 103.80 L514.30 103.80 L514.55 103.80 L514.80 103.80 L515.05 103.80 L515.30 103.80 L515.55 103.80 L515.80 103.80 L516.05 103.80 L516.30 103.80 L516.55 103.80 L516.80 103.80 L517.05 103.80 L517.30 103.80 L517.55 103.80 L517.80 103.80 L518.05 103.80 L518.30 103.80 L518.55 103.80 L518.80 103.80 L519.05 103.80 L519.30 103.80 L519.55 103.80 L519.80 103.80 L520.05 103.80 L520.30 103.80 L520.55 103.80 L520.80 103.80 L521.05 103.80 L521.30 103.80 L521.55 103.80 L521.80 103.80 L522.05 103.80 L522.30 103.80 L522.55 103.80 L522.80 103.80 L523.05 103.80 L523.30 103.80 L523.55 103.80 L523.80 103.80 L524.05 103.80 L524.30 103.80 L524.55 103.80" stroke="#96199a" stroke-width="1.35"/>
<path d="M321.80 127.19 L322.05 127.19 L322.30 127.19 L322.55 127.19 L322.80 127.19 L323.05 127.19 L323.30 127.19 L323.55 127.19 L323.80 127.19 L324.05 127.19 L324.30 127.19 L324.55 127.19 L324.80 127.19 L325.05 127.19 L325.30 127.19 L325.55 127.19 L325.80 127.19 L326.05 127.19 L326.30 127.19 L326.55 127.19 L326.80 127.19 L327.05 127.19 L327.30 127.19 L327.55 127.19 L327.80 127.19 L328.05 127.19 L328.30 127.19 L328.55 127.19 L328.80 127.19 L329.05 127.19 L329.30 127.19 L329.55 127.19 L329.80 127.19 L330.05 127.19 L330.30 127.19 L330.55 127.19 L330.80 127.19 L331.05 127.19 L331.30 127.19 L331.55 127.19 L331.80 127.19 L332.05 127.19 L332.30 127.19 L332.55 127.19 L332.80 127.19 L333.05 127.19 L333.30 127.19 L333.55 127.19 L333.80 127.19 L334.05 127.19 L334.30 127.19 L334.55 127.19 L334.80 127.19 L335.05 127.19 L335.30 127.19 L335.55 127.19 L335.80 127.19 L336.05 127.19 L336.30 127.19 L336.55 127.19 L336.80 127.19 L337.05 127.19 L337.30 127.19 L337.55 127.19 L337.80 127.19 L338.05 127.19 L338.30 127.18 L338.55 127.18 L338.80 127.18 L339.05 127.18 L339.30 127.18 L339.55 127.18 L339.80 127.18 L340.05 127.18 L340.30 127.18 L340.55 127.18 L340.80 127.18 L341.05 127.18 L341.30 127.18 L341.55 127.18 L341.80 127.18 L342.05 127.18 L342.30 127.18 L342.55 127.18 L342.80 127.18 L343.05 127.18 L343.30 127.18 L343.55 127.18 L343.80 127.18 L344.05 127.18 L344.30 127.18 L344.55 127.18 L344.80 127.18 L345.05 127.17 L345.30 127.17 L345.55 127.17 L345.80 127.17 L346.05 127.17 L346.30 127.17 L346.55 127.17 L346.80 127.17 L347.05 127.17 L347.30 127.17 L347.55 127.17 L347.80 127.17 L348.05 127.16 L348.30 127.16 L348.55 127.16 L348.80 127.16 L349.05 127.16 L349.30 127.16 L349.55 127.16 L349.80 127.15 L350.05 127.15 L350.30 127.15 L350.55 127.15 L350.80 127.14 L351.05 127.14 L351.30 127.14 L351.55 127.14 L351.80 127.13 L352.05 127.13 L352.30 127.12 L352.55 127.12 L352.80 127.11 L353.05 127.10 L353.30 127.09 L353.55 127.08 L353.80 127.07 L354.05 127.06 L354.30 127.04 L354.55 127.02 L354.80 127.00 L355.05 126.97 L355.30 126.94 L355.55 126.90 L355.80 126.85 L356.05 126.80 L356.30 126.74 L356.55 126.69 L356.80 126.66 L357.05 126.65 L357.30 126.66 L357.55 126.70 L357.80 126.75 L358.05 126.80 L358.30 126.85 L358.55 126.89 L358.80 126.93 L359.05 126.95 L359.30 126.97 L359.55 126.99 L359.80 127.01 L360.05 127.02 L360.30 127.02 L360.55 127.03 L360.80 127.03 L361.05 127.04 L361.30 127.04 L361.55 127.04 L361.80 127.04 L362.05 127.03 L362.30 127.03 L362.55 127.03 L362.80 127.02 L363.05 127.01 L363.30 127.01 L363.55 127.00 L363.80 126.99 L364.05 126.98 L364.30 126.96 L364.55 126.95 L364.80 126.93 L365.05 126.92 L365.30 126.89 L365.55 126.86 L365.80 126.74 L366.05 126.30 L366.30 125.17 L366.55 123.35 L366.80 121.85 L367.05 121.87 L367.30 123.05 L367.55 123.88 L367.80 123.82 L368.05 123.71 L368.30 124.16 L368.55 124.83 L368.80 125.18 L369.05 125.19 L369.30 125.07 L369.55 125.00 L369.80 124.99 L370.05 124.99 L370.30 124.97 L370.55 124.92 L370.80 124.90 L371.05 124.94 L371.30 124.89 L371.55 124.47 L371.80 123.69 L372.05 123.23 L372.30 123.78 L372.55 125.02 L372.80 126.09 L373.05 126.63 L373.30 126.81 L373.55 126.87 L373.80 126.89 L374.05 126.91 L374.30 126.93 L374.55 126.94 L374.80 126.96 L375.05 126.97 L375.30 126.98 L375.55 126.99 L375.80 127.00 L376.05 127.01 L376.30 127.01 L376.55 127.02 L376.80 127.02 L377.05 127.03 L377.30 127.03 L377.55 127.03 L377.80 127.04 L378.05 127.04 L378.30 127.04 L378.55 127.04 L378.80 127.04 L379.05 127.04 L379.30 127.04 L379.55 127.04 L379.80 127.04 L380.05 127.04 L380.30 127.04 L380.55 127.04 L380.80 127.03 L381.05 127.03 L381.30 127.02 L381.55 127.02 L381.80 127.02 L382.05 127.01 L382.30 127.00 L382.55 127.00 L382.80 126.99 L383.05 126.98 L383.30 126.97 L383.55 126.96 L383.80 126.94 L384.05 126.93 L384.30 126.91 L384.55 126.88 L384.80 126.82 L385.05 126.70 L385.30 126.46 L385.55 126.07 L385.80 125.56 L386.05 125.04 L386.30 124.66 L386.55 124.40 L386.80 123.86 L387.05 122.45 L387.30 120.12 L387.55 118.06 L387.80 117.88 L388.05 119.69 L388.30 121.79 L388.55 122.50 L388.80 121.99 L389.05 121.77 L389.30 122.67 L389.55 123.93 L389.80 124.37 L390.05 123.31 L390.30 120.82 L390.55 118.39 L390.80 118.13 L391.05 120.29 L391.30 122.70 L391.55 122.97 L391.80 119.99 L392.05 115.09 L392.30 112.47 L392.55 114.74 L392.80 119.11 L393.05 121.74 L393.30 122.28 L393.55 122.42 L393.80 123.18 L394.05 124.40 L394.30 125.53 L394.55 126.25 L394.80 126.60 L395.05 126.74 L395.30 126.80 L395.55 126.83 L395.80 126.86 L396.05 126.88 L396.30 126.91 L396.55 126.93 L396.80 126.94 L397.05 126.96 L397.30 126.97 L397.55 126.99 L397.80 127.00 L398.05 127.01 L398.30 127.02 L398.55 127.03 L398.80 127.04 L399.05 127.05 L399.30 127.06 L399.55 127.06 L399.80 127.07 L400.05 127.08 L400.30 127.08 L400.55 127.09 L400.80 127.09 L401.05 127.10 L401.30 127.10 L401.55 127.10 L401.80 127.11 L402.05 127.11 L402.30 127.11 L402.55 127.12 L402.80 127.12 L403.05 127.12 L403.30 127.13 L403.55 127.13 L403.80 127.13 L404.05 127.13 L404.30 127.13 L404.55 127.14 L404.80 127.14 L405.05 127.14 L405.30 127.14 L405.55 127.14 L405.80 127.15 L406.05 127.15 L406.30 127.15 L406.55 127.15 L406.80 127.15 L407.05 127.15 L407.30 127.15 L407.55 127.16 L407.80 127.16 L408.05 127.16 L408.30 127.16 L408.55 127.16 L408.80 127.16 L409.05 127.16 L409.30 127.16 L409.55 127.16 L409.80 127.16 L410.05 127.16 L410.30 127.17 L410.55 127.17 L410.80 127.17 L411.05 127.17 L411.30 127.17 L411.55 127.17 L411.80 127.17 L412.05 127.17 L412.30 127.17 L412.55 127.17 L412.80 127.17 L413.05 127.17 L413.30 127.17 L413.55 127.17 L413.80 127.17 L414.05 127.17 L414.30 127.17 L414.55 127.18 L414.80 127.18 L415.05 127.18 L415.30 127.18 L415.55 127.18 L415.80 127.18 L416.05 127.18 L416.30 127.18 L416.55 127.18 L416.80 127.18 L417.05 127.18 L417.30 127.18 L417.55 127.18 L417.80 127.18 L418.05 127.18 L418.30 127.18 L418.55 127.18 L418.80 127.18 L419.05 127.18 L419.30 127.18 L419.55 127.18 L419.80 127.18 L420.05 127.18 L420.30 127.18 L420.55 127.18 L420.80 127.18 L421.05 127.18 L421.30 127.18 L421.55 127.18 L421.80 127.18 L422.05 127.18 L422.30 127.18 L422.55 127.18 L422.80 127.18 L423.05 127.18 L423.30 127.18 L423.55 127.18 L423.80 127.18 L424.05 127.19 L424.30 127.19 L424.55 127.19 L424.80 127.19 L425.05 127.19 L425.30 127.19 L425.55 127.19 L425.80 127.19 L426.05 127.19 L426.30 127.19 L426.55 127.19 L426.80 127.19 L427.05 127.19 L427.30 127.19 L427.55 127.19 L427.80 127.19 L428.05 127.19 L428.30 127.19 L428.55 127.19 L428.80 127.19 L429.05 127.19 L429.30 127.19 L429.55 127.19 L429.80 127.19 L430.05 127.19 L430.30 127.19 L430.55 127.19 L430.80 127.19 L431.05 127.19 L431.30 127.19 L431.55 127.19 L431.80 127.19 L432.05 127.19 L432.30 127.19 L432.55 127.19 L432.80 127.19 L433.05 127.19 L433.30 127.19 L433.55 127.19 L433.80 127.19 L434.05 127.19 L434.30 127.19 L434.55 127.19 L434.80 127.19 L435.05 127.19 L435.30 127.19 L435.55 127.19 L435.80 127.19 L436.05 127.19 L436.30 127.19 L436.55 127.19 L436.80 127.19 L437.05 127.19 L437.30 127.19 L437.55 127.19 L437.80 127.19 L438.05 127.19 L438.30 127.19 L438.55 127.19 L438.80 127.19 L439.05 127.19 L439.30 127.19 L439.55 127.19 L439.80 127.19 L440.05 127.19 L440.30 127.19 L440.55 127.19 L440.80 127.19 L441.05 127.19 L441.30 127.19 L441.55 127.19 L441.80 127.19 L442.05 127.19 L442.30 127.19 L442.55 127.19 L442.80 127.19 L443.05 127.19 L443.30 127.19 L443.55 127.19 L443.80 127.19 L444.05 127.19 L444.30 127.19 L444.55 127.19 L444.80 127.19 L445.05 127.19 L445.30 127.19 L445.55 127.19 L445.80 127.19 L446.05 127.19 L446.30 127.19 L446.55 127.19 L446.80 127.19 L447.05 127.19 L447.30 127.19 L447.55 127.19 L447.80 127.19 L448.05 127.19 L448.30 127.19 L448.55 127.19 L448.80 127.19 L449.05 127.19 L449.30 127.19 L449.55 127.19 L449.80 127.19 L450.05 127.19 L450.30 127.19 L450.55 127.19 L450.80 127.19 L451.05 127.19 L451.30 127.19 L451.55 127.19 L451.80 127.19 L452.05 127.19 L452.30 127.19 L452.55 127.19 L452.80 127.19 L453.05 127.19 L453.30 127.19 L453.55 127.19 L453.80 127.19 L454.05 127.19 L454.30 127.19 L454.55 127.19 L454.80 127.19 L455.05 127.19 L455.30 127.19 L455.55 127.19 L455.80 127.19 L456.05 127.19 L456.30 127.19 L456.55 127.19 L456.80 127.19 L457.05 127.19 L457.30 127.19 L457.55 127.19 L457.80 127.19 L458.05 127.19 L458.30 127.19 L458.55 127.19 L458.80 127.19 L459.05 127.19 L459.30 127.19 L459.55 127.19 L459.80 127.19 L460.05 127.19 L460.30 127.19 L460.55 127.19 L460.80 127.19 L461.05 127.19 L461.30 127.19 L461.55 127.19 L461.80 127.19 L462.05 127.19 L462.30 127.19 L462.55 127.19 L462.80 127.19 L463.05 127.19 L463.30 127.19 L463.55 127.19 L463.80 127.19 L464.05 127.19 L464.30 127.19 L464.55 127.19 L464.80 127.19 L465.05 127.19 L465.30 127.19 L465.55 127.19 L465.80 127.19 L466.05 127.19 L466.30 127.19 L466.55 127.19 L466.80 127.19 L467.05 127.19 L467.30 127.19 L467.55 127.18 L467.80 127.18 L468.05 127.18 L468.30 127.18 L468.55 127.18 L468.80 127.18 L469.05 127.18 L469.30 127.18 L469.55 127.18 L469.80 127.18 L470.05 127.18 L470.30 127.18 L470.55 127.18 L470.80 127.18 L471.05 127.18 L471.30 127.18 L471.55 127.18 L471.80 127.18 L472.05 127.18 L472.30 127.18 L472.55 127.18 L472.80 127.18 L473.05 127.18 L473.30 127.18 L473.55 127.18 L473.80 127.18 L474.05 127.18 L474.30 127.18 L474.55 127.18 L474.80 127.18 L475.05 127.18 L475.30 127.18 L475.55 127.18 L475.80 127.18 L476.05 127.18 L476.30 127.17 L476.55 127.17 L476.80 127.17 L477.05 127.17 L477.30 127.17 L477.55 127.17 L477.80 127.17 L478.05 127.17 L478.30 127.17 L478.55 127.17 L478.80 127.17 L479.05 127.17 L479.30 127.17 L479.55 127.17 L479.80 127.17 L480.05 127.17 L480.30 127.16 L480.55 127.16 L480.80 127.16 L481.05 127.16 L481.30 127.16 L481.55 127.16 L481.80 127.16 L482.05 127.16 L482.30 127.16 L482.55 127.16 L482.80 127.15 L483.05 127.15 L483.30 127.15 L483.55 127.15 L483.80 127.15 L484.05 127.15 L484.30 127.15 L484.55 127.14 L484.80 127.14 L485.05 127.14 L485.30 127.14 L485.55 127.14 L485.80 127.13 L486.05 127.13 L486.30 127.13 L486.55 127.13 L486.80 127.12 L487.05 127.12 L487.30 127.12 L487.55 127.12 L487.80 127.11 L488.05 127.11 L488.30 127.11 L488.55 127.10 L488.80 127.10 L489.05 127.09 L489.30 127.09 L489.55 127.08 L489.80 127.08 L490.05 127.07 L490.30 127.06 L490.55 127.06 L490.80 127.05 L491.05 127.04 L491.30 127.03 L491.55 127.03 L491.80 127.02 L492.05 127.00 L492.30 126.99 L492.55 126.98 L492.80 126.96 L493.05 126.95 L493.30 126.93 L493.55 126.91 L493.80 126.89 L494.05 126.87 L494.30 126.84 L494.55 126.81 L494.80 126.78 L495.05 126.74 L495.30 126.70 L495.55 126.65 L495.80 126.60 L496.05 126.53 L496.30 126.46 L496.55 126.35 L496.80 126.12 L497.05 125.38 L497.30 123.14 L497.55 118.39 L497.80 112.04 L498.05 107.97 L498.30 109.43 L498.55 114.74 L498.80 119.13 L499.05 119.35 L499.30 115.51 L499.55 111.11 L499.80 110.65 L500.05 114.79 L500.30 119.86 L500.55 122.86 L500.80 123.80 L501.05 123.84 L501.30 123.68 L501.55 123.57 L501.80 123.60 L502.05 123.77 L502.30 124.07 L502.55 124.47 L502.80 124.91 L503.05 125.35 L503.30 125.74 L503.55 126.06 L503.80 126.31 L504.05 126.50 L504.30 126.63 L504.55 126.71 L504.80 126.77 L505.05 126.82 L505.30 126.85 L505.55 126.88 L505.80 126.90 L506.05 126.92 L506.30 126.94 L506.55 126.95 L506.80 126.97 L507.05 126.98 L507.30 127.00 L507.55 127.01 L507.80 127.02 L508.05 127.03 L508.30 127.04 L508.55 127.04 L508.80 127.05 L509.05 127.06 L509.30 127.07 L509.55 127.07 L509.80 127.08 L510.05 127.08 L510.30 127.09 L510.55 127.09 L510.80 127.10 L511.05 127.10 L511.30 127.11 L511.55 127.11 L511.80 127.11 L512.05 127.12 L512.30 127.12 L512.55 127.12 L512.80 127.13 L513.05 127.13 L513.30 127.13 L513.55 127.13 L513.80 127.14 L514.05 127.14 L514.30 127.14 L514.55 127.14 L514.80 127.14 L515.05 127.14 L515.30 127.15 L515.55 127.15 L515.80 127.15 L516.05 127.15 L516.30 127.15 L516.55 127.15 L516.80 127.16 L517.05 127.16 L517.30 127.16 L517.55 127.16 L517.80 127.16 L518.05 127.16 L518.30 127.16 L518.55 127.16 L518.80 127.16 L519.05 127.16 L519.30 127.17 L519.55 127.17 L519.80 127.17 L520.05 127.17 L520.30 127.17 L520.55 127.17 L520.80 127.17 L521.05 127.17 L521.30 127.17 L521.55 127.17 L521.80 127.17 L522.05 127.17 L522.30 127.17 L522.55 127.17 L522.80 127.17 L523.05 127.18 L523.30 127.18 L523.55 127.18 L523.80 127.18 L524.05 127.18 L524.30 127.18 L524.55 127.18" stroke="#237223" stroke-width="1.35"/>
<path d="M321.80 151.45 L322.05 151.45 L322.30 151.45 L322.55 151.45 L322.80 151.45 L323.05 151.45 L323.30 151.45 L323.55 151.45 L323.80 151.45 L324.05 151.45 L324.30 151.45 L324.55 151.45 L324.80 151.45 L325.05 151.45 L325.30 151.45 L325.55 151.45 L325.80 151.45 L326.05 151.45 L326.30 151.45 L326.55 151.45 L326.80 151.45 L327.05 151.45 L327.30 151.45 L327.55 151.45 L327.80 151.45 L328.05 151.45 L328.30 151.45 L328.55 151.44 L328.80 151.44 L329.05 151.44 L329.30 151.44 L329.55 151.44 L329.80 151.44 L330.05 151.44 L330.30 151.44 L330.55 151.44 L330.80 151.44 L331.05 151.44 L331.30 151.44 L331.55 151.44 L331.80 151.44 L332.05 151.44 L332.30 151.44 L332.55 151.44 L332.80 151.44 L333.05 151.44 L333.30 151.44 L333.55 151.44 L333.80 151.44 L334.05 151.44 L334.30 151.44 L334.55 151.44 L334.80 151.44 L335.05 151.44 L335.30 151.44 L335.55 151.44 L335.80 151.44 L336.05 151.44 L336.30 151.44 L336.55 151.44 L336.80 151.44 L337.05 151.44 L337.30 151.44 L337.55 151.44 L337.80 151.44 L338.05 151.44 L338.30 151.44 L338.55 151.44 L338.80 151.44 L339.05 151.44 L339.30 151.44 L339.55 151.44 L339.80 151.44 L340.05 151.44 L340.30 151.44 L340.55 151.44 L340.80 151.44 L341.05 151.44 L341.30 151.44 L341.55 151.44 L341.80 151.44 L342.05 151.44 L342.30 151.44 L342.55 151.44 L342.80 151.44 L343.05 151.44 L343.30 151.44 L343.55 151.44 L343.80 151.44 L344.05 151.44 L344.30 151.44 L344.55 151.44 L344.80 151.44 L345.05 151.44 L345.30 151.44 L345.55 151.44 L345.80 151.44 L346.05 151.44 L346.30 151.43 L346.55 151.43 L346.80 151.43 L347.05 151.43 L347.30 151.43 L347.55 151.43 L347.80 151.43 L348.05 151.43 L348.30 151.43 L348.55 151.43 L348.80 151.43 L349.05 151.43 L349.30 151.43 L349.55 151.43 L349.80 151.43 L350.05 151.42 L350.30 151.42 L350.55 151.42 L350.80 151.42 L351.05 151.42 L351.30 151.42 L351.55 151.41 L351.80 151.41 L352.05 151.41 L352.30 151.41 L352.55 151.40 L352.80 151.40 L353.05 151.39 L353.30 151.39 L353.55 151.38 L353.80 151.38 L354.05 151.37 L354.30 151.35 L354.55 151.34 L354.80 151.32 L355.05 151.30 L355.30 151.27 L355.55 151.24 L355.80 151.19 L356.05 151.12 L356.30 151.03 L356.55 150.92 L356.80 150.79 L357.05 150.68 L357.30 150.63 L357.55 150.68 L357.80 150.79 L358.05 150.92 L358.30 151.03 L358.55 151.12 L358.80 151.18 L359.05 151.23 L359.30 151.27 L359.55 151.29 L359.80 151.31 L360.05 151.33 L360.30 151.34 L360.55 151.35 L360.80 151.36 L361.05 151.37 L361.30 151.37 L361.55 151.37 L361.80 151.38 L362.05 151.38 L362.30 151.38 L362.55 151.38 L362.80 151.38 L363.05 151.38 L363.30 151.38 L363.55 151.38 L363.80 151.38 L364.05 151.38 L364.30 151.38 L364.55 151.38 L364.80 151.37 L365.05 151.37 L365.30 151.37 L365.55 151.36 L365.80 151.36 L366.05 151.35 L366.30 151.35 L366.55 151.34 L366.80 151.33 L367.05 151.32 L367.30 151.31 L367.55 151.30 L367.80 151.28 L368.05 151.26 L368.30 151.24 L368.55 151.21 L368.80 151.18 L369.05 151.14 L369.30 151.09 L369.55 151.03 L369.80 150.95 L370.05 150.85 L370.30 150.73 L370.55 150.57 L370.80 150.37 L371.05 150.13 L371.30 149.89 L371.55 149.70 L371.80 149.63 L372.05 149.70 L372.30 149.89 L372.55 150.13 L372.80 150.36 L373.05 150.56 L373.30 150.72 L373.55 150.85 L373.80 150.95 L374.05 151.03 L374.30 151.09 L374.55 151.14 L374.80 151.18 L375.05 151.21 L375.30 151.23 L375.55 151.25 L375.80 151.27 L376.05 151.29 L376.30 151.30 L376.55 151.31 L376.80 151.32 L377.05 151.33 L377.30 151.34 L377.55 151.34 L377.80 151.35 L378.05 151.35 L378.30 151.36 L378.55 151.36 L378.80 151.36 L379.05 151.36 L379.30 151.37 L379.55 151.37 L379.80 151.37 L380.05 151.37 L380.30 151.37 L380.55 151.37 L380.80 151.37 L381.05 151.37 L381.30 151.37 L381.55 151.37 L381.80 151.37 L382.05 151.37 L382.30 151.37 L382.55 151.37 L382.80 151.37 L383.05 151.37 L383.30 151.37 L383.55 151.36 L383.80 151.36 L384.05 151.36 L384.30 151.36 L384.55 151.36 L384.80 151.35 L385.05 151.35 L385.30 151.35 L385.55 151.34 L385.80 151.34 L386.05 151.33 L386.30 151.33 L386.55 151.32 L386.80 151.32 L387.05 151.31 L387.30 151.31 L387.55 151.30 L387.80 151.29 L388.05 151.28 L388.30 151.27 L388.55 151.26 L388.80 151.25 L389.05 151.24 L389.30 151.22 L389.55 151.21 L389.80 151.19 L390.05 151.17 L390.30 151.15 L390.55 151.12 L390.80 151.09 L391.05 151.06 L391.30 151.02 L391.55 150.97 L391.80 150.92 L392.05 150.85 L392.30 150.77 L392.55 150.68 L392.80 150.56 L393.05 150.40 L393.30 150.20 L393.55 149.94 L393.80 149.56 L394.05 149.01 L394.30 148.15 L394.55 146.68 L394.80 143.90 L395.05 138.38 L395.30 130.42 L395.55 131.43 L395.80 138.79 L396.05 143.01 L396.30 144.86 L396.55 145.62 L396.80 145.79 L397.05 145.36 L397.30 143.84 L397.55 140.35 L397.80 137.37 L398.05 141.07 L398.30 145.28 L398.55 147.53 L398.80 148.72 L399.05 149.41 L399.30 149.85 L399.55 150.15 L399.80 150.37 L400.05 150.53 L400.30 150.66 L400.55 150.76 L400.80 150.84 L401.05 150.91 L401.30 150.97 L401.55 151.01 L401.80 151.05 L402.05 151.09 L402.30 151.12 L402.55 151.15 L402.80 151.17 L403.05 151.19 L403.30 151.21 L403.55 151.23 L403.80 151.24 L404.05 151.26 L404.30 151.27 L404.55 151.28 L404.80 151.29 L405.05 151.30 L405.30 151.31 L405.55 151.31 L405.80 151.32 L406.05 151.33 L406.30 151.33 L406.55 151.34 L406.80 151.34 L407.05 151.35 L407.30 151.35 L407.55 151.36 L407.80 151.36 L408.05 151.37 L408.30 151.37 L408.55 151.37 L408.80 151.37 L409.05 151.38 L409.30 151.38 L409.55 151.38 L409.80 151.39 L410.05 151.39 L410.30 151.39 L410.55 151.39 L410.80 151.39 L411.05 151.40 L411.30 151.40 L411.55 151.40 L411.80 151.40 L412.05 151.40 L412.30 151.40 L412.55 151.40 L412.80 151.41 L413.05 151.41 L413.30 151.41 L413.55 151.41 L413.80 151.41 L414.05 151.41 L414.30 151.41 L414.55 151.41 L414.80 151.41 L415.05 151.42 L415.30 151.42 L415.55 151.42 L415.80 151.42 L416.05 151.42 L416.30 151.42 L416.55 151.42 L416.80 151.42 L417.05 151.42 L417.30 151.42 L417.55 151.42 L417.80 151.42 L418.05 151.42 L418.30 151.42 L418.55 151.42 L418.80 151.42 L419.05 151.43 L419.30 151.43 L419.55 151.43 L419.80 151.43 L420.05 151.43 L420.30 151.43 L420.55 151.43 L420.80 151.43 L421.05 151.43 L421.30 151.43 L421.55 151.43 L421.80 151.43 L422.05 151.43 L422.30 151.43 L422.55 151.43 L422.80 151.43 L423.05 151.43 L423.30 151.43 L423.55 151.43 L423.80 151.43 L424.05 151.43 L424.30 151.43 L424.55 151.43 L424.80 151.43 L425.05 151.43 L425.30 151.43 L425.55 151.43 L425.80 151.43 L426.05 151.43 L426.30 151.43 L426.55 151.43 L426.80 151.43 L427.05 151.43 L427.30 151.44 L427.55 151.44 L427.80 151.44 L428.05 151.44 L428.30 151.44 L428.55 151.44 L428.80 151.44 L429.05 151.44 L429.30 151.44 L429.55 151.44 L429.80 151.44 L430.05 151.44 L430.30 151.44 L430.55 151.44 L430.80 151.44 L431.05 151.44 L431.30 151.44 L431.55 151.44 L431.80 151.44 L432.05 151.44 L432.30 151.44 L432.55 151.44 L432.80 151.44 L433.05 151.44 L433.30 151.44 L433.55 151.44 L433.80 151.44 L434.05 151.44 L434.30 151.44 L434.55 151.44 L434.80 151.44 L435.05 151.44 L435.30 151.44 L435.55 151.44 L435.80 151.44 L436.05 151.44 L436.30 151.44 L436.55 151.44 L436.80 151.44 L437.05 151.44 L437.30 151.44 L437.55 151.44 L437.80 151.44 L438.05 151.44 L438.30 151.44 L438.55 151.44 L438.80 151.44 L439.05 151.44 L439.30 151.44 L439.55 151.44 L439.80 151.44 L440.05 151.44 L440.30 151.44 L440.55 151.44 L440.80 151.44 L441.05 151.44 L441.30 151.44 L441.55 151.44 L441.80 151.44 L442.05 151.44 L442.30 151.44 L442.55 151.44 L442.80 151.44 L443.05 151.44 L443.30 151.44 L443.55 151.44 L443.80 151.44 L444.05 151.44 L444.30 151.44 L444.55 151.44 L444.80 151.44 L445.05 151.44 L445.30 151.44 L445.55 151.44 L445.80 151.44 L446.05 151.44 L446.30 151.44 L446.55 151.44 L446.80 151.44 L447.05 151.44 L447.30 151.44 L447.55 151.44 L447.80 151.44 L448.05 151.44 L448.30 151.44 L448.55 151.44 L448.80 151.44 L449.05 151.44 L449.30 151.44 L449.55 151.44 L449.80 151.44 L450.05 151.44 L450.30 151.44 L450.55 151.44 L450.80 151.44 L451.05 151.44 L451.30 151.44 L451.55 151.44 L451.80 151.44 L452.05 151.44 L452.30 151.44 L452.55 151.44 L452.80 151.44 L453.05 151.44 L453.30 151.44 L453.55 151.44 L453.80 151.44 L454.05 151.44 L454.30 151.44 L454.55 151.44 L454.80 151.44 L455.05 151.44 L455.30 151.44 L455.55 151.44 L455.80 151.44 L456.05 151.44 L456.30 151.44 L456.55 151.44 L456.80 151.43 L457.05 151.43 L457.30 151.43 L457.55 151.43 L457.80 151.43 L458.05 151.43 L458.30 151.43 L458.55 151.43 L458.80 151.43 L459.05 151.43 L459.30 151.43 L459.55 151.43 L459.80 151.43 L460.05 151.43 L460.30 151.43 L460.55 151.43 L460.80 151.43 L461.05 151.43 L461.30 151.43 L461.55 151.43 L461.80 151.43 L462.05 151.43 L462.30 151.43 L462.55 151.43 L462.80 151.43 L463.05 151.43 L463.30 151.43 L463.55 151.43 L463.80 151.43 L464.05 151.42 L464.30 151.42 L464.55 151.42 L464.80 151.42 L465.05 151.42 L465.30 151.42 L465.55 151.42 L465.80 151.42 L466.05 151.42 L466.30 151.42 L466.55 151.42 L466.80 151.42 L467.05 151.42 L467.30 151.41 L467.55 151.41 L467.80 151.41 L468.05 151.41 L468.30 151.41 L468.55 151.41 L468.80 151.41 L469.05 151.41 L469.30 151.40 L469.55 151.40 L469.80 151.40 L470.05 151.40 L470.30 151.40 L470.55 151.39 L470.80 151.39 L471.05 151.39 L471.30 151.39 L471.55 151.38 L471.80 151.38 L472.05 151.38 L472.30 151.37 L472.55 151.37 L472.80 151.36 L473.05 151.36 L473.30 151.35 L473.55 151.35 L473.80 151.34 L474.05 151.34 L474.30 151.33 L474.55 151.32 L474.80 151.31 L475.05 151.30 L475.30 151.29 L475.55 151.27 L475.80 151.26 L476.05 151.24 L476.30 151.22 L476.55 151.20 L476.80 151.17 L477.05 151.13 L477.30 151.10 L477.55 151.05 L477.80 150.99 L478.05 150.93 L478.30 150.85 L478.55 150.75 L478.80 150.64 L479.05 150.51 L479.30 150.37 L479.55 150.24 L479.80 150.13 L480.05 150.05 L480.30 150.02 L480.55 150.00 L480.80 149.97 L481.05 149.88 L481.30 149.69 L481.55 149.32 L481.80 148.67 L482.05 147.61 L482.30 146.31 L482.55 145.81 L482.80 146.71 L483.05 147.87 L483.30 148.59 L483.55 148.83 L483.80 148.65 L484.05 148.17 L484.30 147.87 L484.55 148.23 L484.80 148.78 L485.05 149.06 L485.30 148.96 L485.55 148.47 L485.80 147.77 L486.05 147.54 L486.30 148.19 L486.55 149.01 L486.80 149.58 L487.05 149.90 L487.30 150.06 L487.55 150.13 L487.80 150.14 L488.05 150.12 L488.30 150.12 L488.55 150.15 L488.80 150.23 L489.05 150.34 L489.30 150.47 L489.55 150.60 L489.80 150.71 L490.05 150.82 L490.30 150.90 L490.55 150.97 L490.80 151.03 L491.05 151.08 L491.30 151.13 L491.55 151.16 L491.80 151.19 L492.05 151.22 L492.30 151.24 L492.55 151.26 L492.80 151.27 L493.05 151.29 L493.30 151.30 L493.55 151.31 L493.80 151.32 L494.05 151.33 L494.30 151.34 L494.55 151.34 L494.80 151.35 L495.05 151.36 L495.30 151.36 L495.55 151.37 L495.80 151.37 L496.05 151.37 L496.30 151.38 L496.55 151.38 L496.80 151.38 L497.05 151.39 L497.30 151.39 L497.55 151.39 L497.80 151.40 L498.05 151.40 L498.30 151.40 L498.55 151.40 L498.80 151.40 L499.05 151.41 L499.30 151.41 L499.55 151.41 L499.80 151.41 L500.05 151.41 L500.30 151.41 L500.55 151.41 L500.80 151.42 L501.05 151.42 L501.30 151.42 L501.55 151.42 L501.80 151.42 L502.05 151.42 L502.30 151.42 L502.55 151.42 L502.80 151.42 L503.05 151.42 L503.30 151.42 L503.55 151.42 L503.80 151.43 L504.05 151.43 L504.30 151.43 L504.55 151.43 L504.80 151.43 L505.05 151.43 L505.30 151.43 L505.55 151.43 L505.80 151.43 L506.05 151.43 L506.30 151.43 L506.55 151.43 L506.80 151.43 L507.05 151.43 L507.30 151.43 L507.55 151.43 L507.80 151.43 L508.05 151.43 L508.30 151.43 L508.55 151.43 L508.80 151.43 L509.05 151.43 L509.30 151.44 L509.55 151.44 L509.80 151.44 L510.05 151.44 L510.30 151.44 L510.55 151.44 L510.80 151.44 L511.05 151.44 L511.30 151.44 L511.55 151.44 L511.80 151.44 L512.05 151.44 L512.30 151.44 L512.55 151.44 L512.80 151.44 L513.05 151.44 L513.30 151.44 L513.55 151.44 L513.80 151.44 L514.05 151.44 L514.30 151.44 L514.55 151.44 L514.80 151.44 L515.05 151.44 L515.30 151.44 L515.55 151.44 L515.80 151.44 L516.05 151.44 L516.30 151.44 L516.55 151.44 L516.80 151.44 L517.05 151.44 L517.30 151.44 L517.55 151.44 L517.80 151.44 L518.05 151.44 L518.30 151.44 L518.55 151.44 L518.80 151.44 L519.05 151.44 L519.30 151.44 L519.55 151.44 L519.80 151.44 L520.05 151.44 L520.30 151.44 L520.55 151.44 L520.80 151.44 L521.05 151.44 L521.30 151.44 L521.55 151.44 L521.80 151.44 L522.05 151.44 L522.30 151.44 L522.55 151.44 L522.80 151.44 L523.05 151.44 L523.30 151.44 L523.55 151.44 L523.80 151.44 L524.05 151.44 L524.30 151.44 L524.55 151.44" stroke="#1010ff" stroke-width="1.35"/>
<path d="M321.80 174.97 L322.05 174.97 L322.30 174.96 L322.55 174.96 L322.80 174.95 L323.05 174.94 L323.30 174.93 L323.55 174.91 L323.80 174.88 L324.05 174.83 L324.30 174.76 L324.55 174.62 L324.80 174.38 L325.05 174.07 L325.30 174.03 L325.55 174.32 L325.80 174.58 L326.05 174.73 L326.30 174.82 L326.55 174.87 L326.80 174.90 L327.05 174.92 L327.30 174.94 L327.55 174.95 L327.80 174.95 L328.05 174.96 L328.30 174.96 L328.55 174.96 L328.80 174.97 L329.05 174.97 L329.30 174.97 L329.55 174.97 L329.80 174.97 L330.05 174.97 L330.30 174.97 L330.55 174.97 L330.80 174.96 L331.05 174.96 L331.30 174.96 L331.55 174.95 L331.80 174.95 L332.05 174.94 L332.30 174.92 L332.55 174.90 L332.80 174.87 L333.05 174.81 L333.30 174.72 L333.55 174.54 L333.80 174.30 L334.05 174.19 L334.30 174.40 L334.55 174.62 L334.80 174.76 L335.05 174.84 L335.30 174.88 L335.55 174.91 L335.80 174.93 L336.05 174.94 L336.30 174.95 L336.55 174.95 L336.80 174.96 L337.05 174.96 L337.30 174.97 L337.55 174.97 L337.80 174.97 L338.05 174.97 L338.30 174.97 L338.55 174.97 L338.80 174.97 L339.05 174.97 L339.30 174.97 L339.55 174.97 L339.80 174.97 L340.05 174.97 L340.30 174.97 L340.55 174.97 L340.80 174.97 L341.05 174.96 L341.30 174.96 L341.55 174.96 L341.80 174.96 L342.05 174.95 L342.30 174.95 L342.55 174.94 L342.80 174.94 L343.05 174.93 L343.30 174.92 L343.55 174.91 L343.80 174.89 L344.05 174.87 L344.30 174.84 L344.55 174.80 L344.80 174.74 L345.05 174.65 L345.30 174.53 L345.55 174.37 L345.80 174.23 L346.05 174.18 L346.30 174.28 L346.55 174.44 L346.80 174.58 L347.05 174.69 L347.30 174.76 L347.55 174.81 L347.80 174.85 L348.05 174.87 L348.30 174.89 L348.55 174.91 L348.80 174.92 L349.05 174.93 L349.30 174.93 L349.55 174.94 L349.80 174.94 L350.05 174.94 L350.30 174.95 L350.55 174.95 L350.80 174.95 L351.05 174.95 L351.30 174.95 L351.55 174.95 L351.80 174.95 L352.05 174.95 L352.30 174.95 L352.55 174.95 L352.80 174.95 L353.05 174.95 L353.30 174.95 L353.55 174.95 L353.80 174.95 L354.05 174.95 L354.30 174.95 L354.55 174.95 L354.80 174.95 L355.05 174.94 L355.30 174.94 L355.55 174.94 L355.80 174.94 L356.05 174.94 L356.30 174.93 L356.55 174.93 L356.80 174.93 L357.05 174.92 L357.30 174.92 L357.55 174.91 L357.80 174.91 L358.05 174.90 L358.30 174.90 L358.55 174.89 L358.80 174.88 L359.05 174.87 L359.30 174.86 L359.55 174.84 L359.80 174.83 L360.05 174.81 L360.30 174.79 L360.55 174.76 L360.80 174.72 L361.05 174.68 L361.30 174.62 L361.55 174.54 L361.80 174.44 L362.05 174.32 L362.30 174.15 L362.55 173.97 L362.80 173.82 L363.05 173.76 L363.30 173.80 L363.55 173.90 L363.80 174.00 L364.05 174.05 L364.30 174.05 L364.55 173.97 L364.80 173.81 L365.05 173.58 L365.30 173.34 L365.55 173.22 L365.80 173.23 L366.05 173.02 L366.30 171.74 L366.55 168.23 L366.80 162.36 L367.05 157.02 L367.30 156.45 L367.55 161.18 L367.80 167.33 L368.05 171.38 L368.30 172.84 L368.55 172.85 L368.80 172.53 L369.05 172.60 L369.30 173.03 L369.55 173.30 L369.80 172.61 L370.05 169.95 L370.30 165.01 L370.55 160.24 L370.80 159.50 L371.05 163.13 L371.30 167.21 L371.55 168.85 L371.80 168.56 L372.05 168.11 L372.30 168.18 L372.55 168.36 L372.80 168.30 L373.05 168.38 L373.30 169.23 L373.55 170.80 L373.80 172.45 L374.05 173.62 L374.30 174.21 L374.55 174.42 L374.80 174.46 L375.05 174.44 L375.30 174.40 L375.55 174.37 L375.80 174.35 L376.05 174.35 L376.30 174.38 L376.55 174.43 L376.80 174.48 L377.05 174.54 L377.30 174.60 L377.55 174.65 L377.80 174.69 L378.05 174.72 L378.30 174.75 L378.55 174.77 L378.80 174.79 L379.05 174.80 L379.30 174.81 L379.55 174.82 L379.80 174.82 L380.05 174.82 L380.30 174.82 L380.55 174.80 L380.80 174.79 L381.05 174.76 L381.30 174.71 L381.55 174.63 L381.80 174.49 L382.05 174.28 L382.30 173.97 L382.55 173.75 L382.80 173.86 L383.05 174.18 L383.30 174.44 L383.55 174.61 L383.80 174.71 L384.05 174.78 L384.30 174.82 L384.55 174.85 L384.80 174.88 L385.05 174.89 L385.30 174.90 L385.55 174.92 L385.80 174.92 L386.05 174.93 L386.30 174.94 L386.55 174.94 L386.80 174.94 L387.05 174.95 L387.30 174.95 L387.55 174.95 L387.80 174.96 L388.05 174.96 L388.30 174.96 L388.55 174.96 L388.80 174.96 L389.05 174.97 L389.30 174.97 L389.55 174.97 L389.80 174.97 L390.05 174.97 L390.30 174.97 L390.55 174.97 L390.80 174.97 L391.05 174.97 L391.30 174.98 L391.55 174.98 L391.80 174.98 L392.05 174.98 L392.30 174.98 L392.55 174.98 L392.80 174.98 L393.05 174.98 L393.30 174.98 L393.55 174.98 L393.80 174.98 L394.05 174.98 L394.30 174.98 L394.55 174.98 L394.80 174.98 L395.05 174.98 L395.30 174.98 L395.55 174.98 L395.80 174.98 L396.05 174.98 L396.30 174.98 L396.55 174.99 L396.80 174.99 L397.05 174.99 L397.30 174.99 L397.55 174.99 L397.80 174.99 L398.05 174.99 L398.30 174.99 L398.55 174.99 L398.80 174.99 L399.05 174.99 L399.30 174.99 L399.55 174.99 L399.80 174.99 L400.05 174.99 L400.30 174.99 L400.55 174.99 L400.80 174.99 L401.05 174.99 L401.30 174.99 L401.55 174.99 L401.80 174.99 L402.05 174.99 L402.30 174.99 L402.55 174.99 L402.80 174.99 L403.05 174.99 L403.30 174.99 L403.55 174.99 L403.80 174.99 L404.05 174.99 L404.30 174.99 L404.55 174.99 L404.80 174.99 L405.05 174.99 L405.30 174.99 L405.55 174.99 L405.80 174.99 L406.05 174.99 L406.30 174.99 L406.55 174.99 L406.80 174.99 L407.05 174.99 L407.30 174.99 L407.55 174.99 L407.80 174.99 L408.05 174.99 L408.30 174.99 L408.55 174.99 L408.80 174.99 L409.05 174.99 L409.30 174.99 L409.55 174.99 L409.80 174.99 L410.05 174.99 L410.30 174.99 L410.55 174.99 L410.80 174.99 L411.05 174.99 L411.30 174.99 L411.55 174.99 L411.80 174.99 L412.05 174.99 L412.30 174.99 L412.55 174.99 L412.80 174.99 L413.05 174.99 L413.30 174.99 L413.55 174.99 L413.80 174.99 L414.05 174.99 L414.30 174.99 L414.55 174.99 L414.80 174.99 L415.05 174.99 L415.30 174.99 L415.55 174.99 L415.80 174.99 L416.05 174.99 L416.30 174.99 L416.55 174.99 L416.80 174.99 L417.05 174.99 L417.30 174.99 L417.55 174.99 L417.80 174.99 L418.05 174.99 L418.30 174.99 L418.55 174.99 L418.80 174.99 L419.05 174.99 L419.30 174.99 L419.55 174.99 L419.80 174.99 L420.05 174.99 L420.30 174.99 L420.55 174.99 L420.80 174.99 L421.05 174.99 L421.30 174.99 L421.55 174.99 L421.80 174.99 L422.05 174.99 L422.30 174.99 L422.55 174.99 L422.80 174.99 L423.05 174.99 L423.30 174.99 L423.55 174.99 L423.80 174.99 L424.05 174.99 L424.30 174.99 L424.55 174.99 L424.80 174.99 L425.05 174.99 L425.30 174.99 L425.55 174.99 L425.80 174.99 L426.05 174.99 L426.30 174.99 L426.55 174.99 L426.80 174.99 L427.05 174.99 L427.30 174.99 L427.55 174.99 L427.80 174.99 L428.05 174.99 L428.30 174.99 L428.55 174.99 L428.80 174.99 L429.05 174.99 L429.30 174.99 L429.55 174.99 L429.80 174.99 L430.05 174.99 L430.30 174.99 L430.55 174.99 L430.80 174.99 L431.05 174.99 L431.30 174.99 L431.55 174.99 L431.80 174.99 L432.05 174.99 L432.30 174.99 L432.55 174.99 L432.80 174.99 L433.05 174.99 L433.30 174.99 L433.55 174.99 L433.80 174.99 L434.05 174.99 L434.30 174.99 L434.55 174.99 L434.80 174.99 L435.05 174.99 L435.30 174.99 L435.55 174.99 L435.80 174.99 L436.05 174.99 L436.30 174.99 L436.55 174.99 L436.80 174.99 L437.05 174.99 L437.30 174.99 L437.55 174.99 L437.80 174.99 L438.05 174.99 L438.30 174.99 L438.55 174.99 L438.80 174.99 L439.05 174.99 L439.30 174.99 L439.55 174.99 L439.80 174.99 L440.05 174.99 L440.30 174.99 L440.55 174.99 L440.80 174.99 L441.05 174.99 L441.30 174.99 L441.55 174.99 L441.80 174.99 L442.05 174.99 L442.30 174.99 L442.55 174.99 L442.80 174.99 L443.05 174.99 L443.30 174.99 L443.55 174.99 L443.80 174.99 L444.05 174.99 L444.30 174.99 L444.55 174.99 L444.80 174.99 L445.05 174.99 L445.30 174.99 L445.55 174.99 L445.80 174.99 L446.05 174.99 L446.30 174.99 L446.55 174.99 L446.80 174.99 L447.05 174.99 L447.30 174.99 L447.55 174.99 L447.80 174.99 L448.05 174.99 L448.30 174.99 L448.55 174.99 L448.80 174.99 L449.05 174.99 L449.30 174.99 L449.55 174.99 L449.80 174.99 L450.05 174.99 L450.30 174.99 L450.55 174.99 L450.80 174.99 L451.05 174.99 L451.30 174.99 L451.55 174.99 L451.80 174.99 L452.05 174.99 L452.30 174.99 L452.55 174.99 L452.80 174.98 L453.05 174.98 L453.30 174.98 L453.55 174.98 L453.80 174.98 L454.05 174.98 L454.30 174.98 L454.55 174.98 L454.80 174.98 L455.05 174.98 L455.30 174.98 L455.55 174.98 L455.80 174.98 L456.05 174.98 L456.30 174.98 L456.55 174.98 L456.80 174.98 L457.05 174.98 L457.30 174.98 L457.55 174.97 L457.80 174.97 L458.05 174.97 L458.30 174.97 L458.55 174.97 L458.80 174.97 L459.05 174.97 L459.30 174.97 L459.55 174.97 L459.80 174.97 L460.05 174.96 L460.30 174.96 L460.55 174.96 L460.80 174.96 L461.05 174.96 L461.30 174.96 L461.55 174.95 L461.80 174.95 L462.05 174.95 L462.30 174.95 L462.55 174.94 L462.80 174.94 L463.05 174.94 L463.30 174.93 L463.55 174.93 L463.80 174.92 L464.05 174.92 L464.30 174.91 L464.55 174.91 L464.80 174.90 L465.05 174.89 L465.30 174.88 L465.55 174.87 L465.80 174.86 L466.05 174.85 L466.30 174.83 L466.55 174.82 L466.80 174.79 L467.05 174.77 L467.30 174.74 L467.55 174.70 L467.80 174.65 L468.05 174.59 L468.30 174.51 L468.55 174.40 L468.80 174.26 L469.05 174.08 L469.30 173.85 L469.55 173.60 L469.80 173.39 L470.05 173.29 L470.30 173.35 L470.55 173.49 L470.80 173.63 L471.05 173.70 L471.30 173.69 L471.55 173.60 L471.80 173.43 L472.05 173.21 L472.30 173.01 L472.55 172.96 L472.80 173.06 L473.05 173.26 L473.30 173.46 L473.55 173.58 L473.80 173.62 L474.05 173.57 L474.30 173.44 L474.55 173.26 L474.80 173.10 L475.05 173.07 L475.30 173.19 L475.55 173.40 L475.80 173.60 L476.05 173.74 L476.30 173.81 L476.55 173.80 L476.80 173.73 L477.05 173.61 L477.30 173.51 L477.55 173.52 L477.80 173.65 L478.05 173.86 L478.30 174.08 L478.55 174.26 L478.80 174.40 L479.05 174.51 L479.30 174.59 L479.55 174.65 L479.80 174.70 L480.05 174.74 L480.30 174.77 L480.55 174.80 L480.80 174.82 L481.05 174.84 L481.30 174.85 L481.55 174.87 L481.80 174.88 L482.05 174.89 L482.30 174.90 L482.55 174.90 L482.80 174.91 L483.05 174.92 L483.30 174.92 L483.55 174.93 L483.80 174.93 L484.05 174.93 L484.30 174.94 L484.55 174.94 L484.80 174.94 L485.05 174.95 L485.30 174.95 L485.55 174.95 L485.80 174.95 L486.05 174.96 L486.30 174.96 L486.55 174.96 L486.80 174.96 L487.05 174.96 L487.30 174.97 L487.55 174.97 L487.80 174.97 L488.05 174.97 L488.30 174.97 L488.55 174.97 L488.80 174.97 L489.05 174.97 L489.30 174.97 L489.55 174.97 L489.80 174.98 L490.05 174.98 L490.30 174.98 L490.55 174.98 L490.80 174.98 L491.05 174.98 L491.30 174.98 L491.55 174.98 L491.80 174.98 L492.05 174.98 L492.30 174.98 L492.55 174.98 L492.80 174.98 L493.05 174.98 L493.30 174.98 L493.55 174.98 L493.80 174.98 L494.05 174.99 L494.30 174.99 L494.55 174.99 L494.80 174.99 L495.05 174.99 L495.30 174.99 L495.55 174.99 L495.80 174.99 L496.05 174.99 L496.30 174.99 L496.55 174.99 L496.80 174.99 L497.05 174.99 L497.30 174.99 L497.55 174.99 L497.80 174.99 L498.05 174.99 L498.30 174.99 L498.55 174.99 L498.80 174.99 L499.05 174.99 L499.30 174.99 L499.55 174.99 L499.80 174.99 L500.05 174.99 L500.30 174.99 L500.55 174.99 L500.80 174.99 L501.05 174.99 L501.30 174.99 L501.55 174.99 L501.80 174.99 L502.05 174.99 L502.30 174.99 L502.55 174.99 L502.80 174.99 L503.05 174.99 L503.30 174.99 L503.55 174.99 L503.80 174.99 L504.05 174.99 L504.30 174.99 L504.55 174.99 L504.80 174.99 L505.05 174.99 L505.30 174.99 L505.55 174.99 L505.80 174.99 L506.05 174.99 L506.30 174.99 L506.55 174.99 L506.80 174.99 L507.05 174.99 L507.30 174.99 L507.55 174.99 L507.80 174.99 L508.05 174.99 L508.30 174.99 L508.55 174.99 L508.80 174.99 L509.05 174.99 L509.30 174.99 L509.55 175.00 L509.80 175.00 L510.05 175.00 L510.30 175.00 L510.55 175.00 L510.80 175.00 L511.05 175.00 L511.30 175.00 L511.55 175.00 L511.80 175.00 L512.05 175.00 L512.30 175.00 L512.55 175.00 L512.80 175.00 L513.05 175.00 L513.30 175.00 L513.55 175.00 L513.80 175.00 L514.05 175.00 L514.30 175.00 L514.55 175.00 L514.80 175.00 L515.05 175.00 L515.30 175.00 L515.55 175.00 L515.80 175.00 L516.05 175.00 L516.30 175.00 L516.55 175.00 L516.80 175.00 L517.05 175.00 L517.30 175.00 L517.55 175.00 L517.80 175.00 L518.05 175.00 L518.30 175.00 L518.55 175.00 L518.80 175.00 L519.05 175.00 L519.30 175.00 L519.55 175.00 L519.80 175.00 L520.05 175.00 L520.30 175.00 L520.55 175.00 L520.80 175.00 L521.05 175.00 L521.30 175.00 L521.55 175.00 L521.80 175.00 L522.05 175.00 L522.30 175.00 L522.55 175.00 L522.80 175.00 L523.05 175.00 L523.30 175.00 L523.55 175.00 L523.80 175.00 L524.05 175.00 L524.30 175.00 L524.55 175.00 L524.6 175.2 L321.8 175.2 Z" stroke="#ee1c24" stroke-width="1.2" fill="#ee1c24"/>
<path d="M321.80 198.08 L322.05 198.08 L322.30 198.07 L322.55 198.05 L322.80 198.04 L323.05 198.02 L323.30 198.01 L323.55 197.98 L323.80 197.95 L324.05 197.92 L324.30 197.87 L324.55 197.82 L324.80 197.74 L325.05 197.64 L325.30 197.51 L325.55 197.32 L325.80 197.07 L326.05 196.72 L326.30 196.31 L326.55 195.91 L326.80 195.74 L327.05 195.91 L327.30 196.30 L327.55 196.71 L327.80 197.06 L328.05 197.31 L328.30 197.49 L328.55 197.62 L328.80 197.72 L329.05 197.79 L329.30 197.84 L329.55 197.88 L329.80 197.91 L330.05 197.93 L330.30 197.95 L330.55 197.97 L330.80 197.98 L331.05 197.99 L331.30 197.99 L331.55 198.00 L331.80 198.00 L332.05 198.00 L332.30 198.00 L332.55 197.99 L332.80 197.99 L333.05 197.98 L333.30 197.98 L333.55 197.97 L333.80 197.96 L334.05 197.94 L334.30 197.93 L334.55 197.91 L334.80 197.88 L335.05 197.85 L335.30 197.82 L335.55 197.77 L335.80 197.71 L336.05 197.63 L336.30 197.52 L336.55 197.36 L336.80 197.13 L337.05 196.78 L337.30 196.23 L337.55 195.34 L337.80 194.10 L338.05 193.16 L338.30 193.55 L338.55 194.70 L338.80 195.64 L339.05 196.17 L339.30 196.40 L339.55 196.40 L339.80 196.19 L340.05 195.78 L340.30 195.32 L340.55 195.18 L340.80 195.55 L341.05 196.09 L341.30 196.51 L341.55 196.78 L341.80 196.93 L342.05 196.99 L342.30 196.99 L342.55 196.93 L342.80 196.80 L343.05 196.61 L343.30 196.31 L343.55 195.87 L343.80 195.24 L344.05 194.43 L344.30 193.60 L344.55 193.10 L344.80 193.06 L345.05 193.05 L345.30 192.64 L345.55 191.60 L345.80 190.07 L346.05 189.04 L346.30 189.67 L346.55 191.38 L346.80 192.95 L347.05 193.97 L347.30 194.49 L347.55 194.61 L347.80 194.38 L348.05 193.87 L348.30 193.33 L348.55 193.22 L348.80 193.75 L349.05 194.55 L349.30 195.24 L349.55 195.70 L349.80 195.93 L350.05 195.97 L350.30 195.77 L350.55 195.32 L350.80 194.68 L351.05 194.35 L351.30 194.60 L351.55 194.81 L351.80 194.55 L352.05 193.69 L352.30 192.49 L352.55 192.12 L352.80 193.25 L353.05 194.71 L353.30 195.75 L353.55 196.40 L353.80 196.81 L354.05 197.08 L354.30 197.26 L354.55 197.39 L354.80 197.49 L355.05 197.56 L355.30 197.61 L355.55 197.65 L355.80 197.68 L356.05 197.70 L356.30 197.72 L356.55 197.73 L356.80 197.74 L357.05 197.74 L357.30 197.74 L357.55 197.74 L357.80 197.73 L358.05 197.72 L358.30 197.71 L358.55 197.69 L358.80 197.67 L359.05 197.65 L359.30 197.62 L359.55 197.58 L359.80 197.54 L360.05 197.49 L360.30 197.43 L360.55 197.36 L360.80 197.27 L361.05 197.16 L361.30 197.02 L361.55 196.85 L361.80 196.63 L362.05 196.34 L362.30 195.96 L362.55 195.47 L362.80 194.86 L363.05 194.16 L363.30 193.53 L363.55 193.17 L363.80 193.12 L364.05 193.20 L364.30 193.15 L364.55 192.77 L364.80 191.94 L365.05 190.52 L365.30 188.50 L365.55 186.36 L365.80 185.32 L366.05 186.24 L366.30 188.25 L366.55 190.09 L366.80 191.27 L367.05 191.76 L367.30 191.68 L367.55 191.32 L367.80 191.23 L368.05 191.78 L368.30 192.64 L368.55 193.34 L368.80 193.68 L369.05 193.64 L369.30 193.25 L369.55 192.71 L369.80 192.48 L370.05 192.85 L370.30 193.54 L370.55 194.09 L370.80 194.31 L371.05 194.16 L371.30 193.74 L371.55 193.42 L371.80 193.63 L372.05 194.15 L372.30 194.48 L372.55 194.40 L372.80 193.81 L373.05 192.67 L373.30 191.55 L373.55 191.76 L373.80 193.07 L374.05 194.21 L374.30 194.80 L374.55 194.89 L374.80 194.52 L375.05 193.81 L375.30 193.40 L375.55 193.92 L375.80 194.76 L376.05 195.29 L376.30 195.45 L376.55 195.23 L376.80 194.61 L377.05 193.68 L377.30 193.14 L377.55 193.70 L377.80 194.65 L378.05 195.30 L378.30 195.55 L378.55 195.46 L378.80 195.03 L379.05 194.33 L379.30 193.88 L379.55 194.23 L379.80 194.82 L380.05 195.11 L380.30 195.01 L380.55 194.49 L380.80 193.49 L381.05 192.32 L381.30 192.01 L381.55 192.71 L381.80 193.32 L382.05 193.34 L382.30 192.70 L382.55 191.44 L382.80 189.98 L383.05 189.41 L383.30 190.24 L383.55 191.46 L383.80 192.20 L384.05 192.26 L384.30 191.65 L384.55 190.42 L384.80 188.88 L385.05 187.92 L385.30 188.41 L385.55 189.90 L385.80 191.33 L386.05 192.13 L386.30 192.27 L386.55 192.32 L386.80 193.14 L387.05 194.39 L387.30 195.40 L387.55 196.08 L387.80 196.53 L388.05 196.84 L388.30 197.06 L388.55 197.23 L388.80 197.36 L389.05 197.46 L389.30 197.54 L389.55 197.61 L389.80 197.67 L390.05 197.71 L390.30 197.76 L390.55 197.79 L390.80 197.82 L391.05 197.85 L391.30 197.87 L391.55 197.89 L391.80 197.91 L392.05 197.93 L392.30 197.95 L392.55 197.96 L392.80 197.97 L393.05 197.98 L393.30 197.99 L393.55 198.00 L393.80 198.01 L394.05 198.02 L394.30 198.03 L394.55 198.04 L394.80 198.04 L395.05 198.05 L395.30 198.06 L395.55 198.06 L395.80 198.07 L396.05 198.07 L396.30 198.08 L396.55 198.08 L396.80 198.08 L397.05 198.09 L397.30 198.09 L397.55 198.09 L397.80 198.10 L398.05 198.10 L398.30 198.10 L398.55 198.11 L398.80 198.11 L399.05 198.11 L399.30 198.11 L399.55 198.12 L399.80 198.12 L400.05 198.12 L400.30 198.12 L400.55 198.12 L400.80 198.13 L401.05 198.13 L401.30 198.13 L401.55 198.13 L401.80 198.13 L402.05 198.13 L402.30 198.14 L402.55 198.14 L402.80 198.14 L403.05 198.14 L403.30 198.14 L403.55 198.14 L403.80 198.14 L404.05 198.14 L404.30 198.15 L404.55 198.15 L404.80 198.15 L405.05 198.15 L405.30 198.15 L405.55 198.15 L405.80 198.15 L406.05 198.15 L406.30 198.15 L406.55 198.15 L406.80 198.16 L407.05 198.16 L407.30 198.16 L407.55 198.16 L407.80 198.16 L408.05 198.16 L408.30 198.16 L408.55 198.16 L408.80 198.16 L409.05 198.16 L409.30 198.16 L409.55 198.16 L409.80 198.16 L410.05 198.16 L410.30 198.16 L410.55 198.17 L410.80 198.17 L411.05 198.17 L411.30 198.17 L411.55 198.17 L411.80 198.17 L412.05 198.17 L412.30 198.17 L412.55 198.17 L412.80 198.17 L413.05 198.17 L413.30 198.17 L413.55 198.17 L413.80 198.17 L414.05 198.17 L414.30 198.17 L414.55 198.17 L414.80 198.17 L415.05 198.17 L415.30 198.17 L415.55 198.17 L415.80 198.17 L416.05 198.17 L416.30 198.17 L416.55 198.17 L416.80 198.18 L417.05 198.18 L417.30 198.18 L417.55 198.18 L417.80 198.18 L418.05 198.18 L418.30 198.18 L418.55 198.18 L418.80 198.18 L419.05 198.18 L419.30 198.18 L419.55 198.18 L419.80 198.18 L420.05 198.18 L420.30 198.18 L420.55 198.18 L420.80 198.18 L421.05 198.18 L421.30 198.18 L421.55 198.18 L421.80 198.18 L422.05 198.18 L422.30 198.18 L422.55 198.18 L422.80 198.18 L423.05 198.18 L423.30 198.18 L423.55 198.18 L423.80 198.18 L424.05 198.18 L424.30 198.18 L424.55 198.18 L424.80 198.18 L425.05 198.18 L425.30 198.18 L425.55 198.18 L425.80 198.18 L426.05 198.18 L426.30 198.18 L426.55 198.18 L426.80 198.18 L427.05 198.18 L427.30 198.18 L427.55 198.18 L427.80 198.18 L428.05 198.18 L428.30 198.18 L428.55 198.19 L428.80 198.19 L429.05 198.19 L429.30 198.19 L429.55 198.19 L429.80 198.19 L430.05 198.19 L430.30 198.19 L430.55 198.19 L430.80 198.19 L431.05 198.19 L431.30 198.19 L431.55 198.19 L431.80 198.19 L432.05 198.19 L432.30 198.19 L432.55 198.19 L432.80 198.19 L433.05 198.19 L433.30 198.19 L433.55 198.19 L433.80 198.19 L434.05 198.19 L434.30 198.19 L434.55 198.19 L434.80 198.19 L435.05 198.19 L435.30 198.19 L435.55 198.19 L435.80 198.19 L436.05 198.19 L436.30 198.19 L436.55 198.19 L436.80 198.19 L437.05 198.19 L437.30 198.19 L437.55 198.19 L437.80 198.19 L438.05 198.19 L438.30 198.19 L438.55 198.19 L438.80 198.19 L439.05 198.19 L439.30 198.19 L439.55 198.19 L439.80 198.19 L440.05 198.19 L440.30 198.19 L440.55 198.19 L440.80 198.19 L441.05 198.19 L441.30 198.19 L441.55 198.19 L441.80 198.19 L442.05 198.19 L442.30 198.19 L442.55 198.19 L442.80 198.19 L443.05 198.19 L443.30 198.19 L443.55 198.19 L443.80 198.19 L444.05 198.19 L444.30 198.19 L444.55 198.19 L444.80 198.19 L445.05 198.19 L445.30 198.19 L445.55 198.19 L445.80 198.19 L446.05 198.19 L446.30 198.19 L446.55 198.19 L446.80 198.19 L447.05 198.19 L447.30 198.19 L447.55 198.19 L447.80 198.19 L448.05 198.19 L448.30 198.19 L448.55 198.19 L448.80 198.19 L449.05 198.18 L449.30 198.18 L449.55 198.18 L449.80 198.18 L450.05 198.18 L450.30 198.18 L450.55 198.18 L450.80 198.17 L451.05 198.17 L451.30 198.17 L451.55 198.16 L451.80 198.16 L452.05 198.16 L452.30 198.15 L452.55 198.15 L452.80 198.14 L453.05 198.14 L453.30 198.13 L453.55 198.12 L453.80 198.11 L454.05 198.10 L454.30 198.09 L454.55 198.08 L454.80 198.07 L455.05 198.06 L455.30 198.05 L455.55 198.03 L455.80 198.02 L456.05 198.00 L456.30 197.99 L456.55 197.97 L456.80 197.95 L457.05 197.93 L457.30 197.91 L457.55 197.89 L457.80 197.86 L458.05 197.84 L458.30 197.82 L458.55 197.79 L458.80 197.76 L459.05 197.73 L459.30 197.71 L459.55 197.68 L459.80 197.65 L460.05 197.62 L460.30 197.58 L460.55 197.55 L460.80 197.52 L461.05 197.49 L461.30 197.46 L461.55 197.43 L461.80 197.40 L462.05 197.36 L462.30 197.31 L462.55 197.18 L462.80 196.74 L463.05 195.65 L463.30 193.86 L463.55 192.22 L463.80 192.01 L464.05 193.36 L464.30 195.06 L464.55 196.04 L464.80 196.20 L465.05 195.99 L465.30 195.87 L465.55 195.99 L465.80 196.26 L466.05 196.36 L466.30 195.94 L466.55 194.85 L466.80 193.64 L467.05 193.27 L467.30 194.08 L467.55 195.34 L467.80 196.18 L468.05 196.38 L468.30 196.24 L468.55 196.11 L468.80 196.17 L469.05 196.30 L469.30 196.19 L469.55 195.62 L469.80 194.76 L470.05 194.22 L470.30 194.48 L470.55 195.34 L470.80 196.19 L471.05 196.66 L471.30 196.78 L471.55 196.74 L471.80 196.69 L472.05 196.71 L472.30 196.79 L472.55 196.94 L472.80 197.11 L473.05 197.29 L473.30 197.45 L473.55 197.57 L473.80 197.66 L474.05 197.72 L474.30 197.76 L474.55 197.80 L474.80 197.83 L475.05 197.85 L475.30 197.88 L475.55 197.90 L475.80 197.92 L476.05 197.94 L476.30 197.96 L476.55 197.98 L476.80 198.00 L477.05 198.01 L477.30 198.03 L477.55 198.04 L477.80 198.06 L478.05 198.07 L478.30 198.08 L478.55 198.09 L478.80 198.10 L479.05 198.11 L479.30 198.12 L479.55 198.13 L479.80 198.13 L480.05 198.14 L480.30 198.15 L480.55 198.15 L480.80 198.16 L481.05 198.16 L481.30 198.17 L481.55 198.17 L481.80 198.17 L482.05 198.17 L482.30 198.18 L482.55 198.18 L482.80 198.18 L483.05 198.18 L483.30 198.19 L483.55 198.19 L483.80 198.19 L484.05 198.19 L484.30 198.19 L484.55 198.19 L484.80 198.19 L485.05 198.19 L485.30 198.19 L485.55 198.19 L485.80 198.19 L486.05 198.19 L486.30 198.19 L486.55 198.19 L486.80 198.20 L487.05 198.20 L487.30 198.20 L487.55 198.20 L487.80 198.20 L488.05 198.20 L488.30 198.20 L488.55 198.20 L488.80 198.20 L489.05 198.20 L489.30 198.20 L489.55 198.20 L489.80 198.20 L490.05 198.20 L490.30 198.20 L490.55 198.20 L490.80 198.20 L491.05 198.20 L491.30 198.20 L491.55 198.20 L491.80 198.20 L492.05 198.20 L492.30 198.20 L492.55 198.20 L492.80 198.20 L493.05 198.20 L493.30 198.20 L493.55 198.20 L493.80 198.20 L494.05 198.20 L494.30 198.20 L494.55 198.20 L494.80 198.20 L495.05 198.20 L495.30 198.20 L495.55 198.20 L495.80 198.20 L496.05 198.20 L496.30 198.20 L496.55 198.20 L496.80 198.20 L497.05 198.20 L497.30 198.20 L497.55 198.20 L497.80 198.20 L498.05 198.20 L498.30 198.20 L498.55 198.20 L498.80 198.20 L499.05 198.20 L499.30 198.20 L499.55 198.20 L499.80 198.20 L500.05 198.20 L500.30 198.20 L500.55 198.20 L500.80 198.20 L501.05 198.20 L501.30 198.20 L501.55 198.20 L501.80 198.20 L502.05 198.20 L502.30 198.20 L502.55 198.20 L502.80 198.20 L503.05 198.20 L503.30 198.20 L503.55 198.20 L503.80 198.20 L504.05 198.20 L504.30 198.20 L504.55 198.20 L504.80 198.20 L505.05 198.20 L505.30 198.20 L505.55 198.20 L505.80 198.20 L506.05 198.20 L506.30 198.20 L506.55 198.20 L506.80 198.20 L507.05 198.20 L507.30 198.20 L507.55 198.20 L507.80 198.20 L508.05 198.20 L508.30 198.20 L508.55 198.20 L508.80 198.20 L509.05 198.20 L509.30 198.20 L509.55 198.20 L509.80 198.20 L510.05 198.20 L510.30 198.20 L510.55 198.20 L510.80 198.20 L511.05 198.20 L511.30 198.20 L511.55 198.20 L511.80 198.20 L512.05 198.20 L512.30 198.20 L512.55 198.20 L512.80 198.20 L513.05 198.20 L513.30 198.20 L513.55 198.20 L513.80 198.20 L514.05 198.20 L514.30 198.20 L514.55 198.20 L514.80 198.20 L515.05 198.20 L515.30 198.20 L515.55 198.20 L515.80 198.20 L516.05 198.20 L516.30 198.20 L516.55 198.20 L516.80 198.20 L517.05 198.20 L517.30 198.20 L517.55 198.20 L517.80 198.20 L518.05 198.20 L518.30 198.20 L518.55 198.20 L518.80 198.20 L519.05 198.20 L519.30 198.20 L519.55 198.20 L519.80 198.20 L520.05 198.20 L520.30 198.20 L520.55 198.20 L520.80 198.20 L521.05 198.20 L521.30 198.20 L521.55 198.20 L521.80 198.20 L522.05 198.20 L522.30 198.20 L522.55 198.20 L522.80 198.20 L523.05 198.20 L523.30 198.20 L523.55 198.20 L523.80 198.20 L524.05 198.20 L524.30 198.20 L524.55 198.20" stroke="#2a2a2a" stroke-width="0.85"/>
<path d="M450.00 198.19 L450.25 198.19 L450.50 198.18 L450.75 198.18 L451.00 198.18 L451.25 198.18 L451.50 198.17 L451.75 198.17 L452.00 198.16 L452.25 198.16 L452.50 198.15 L452.75 198.15 L453.00 198.14 L453.25 198.14 L453.50 198.13 L453.75 198.12 L454.00 198.11 L454.25 198.10 L454.50 198.09 L454.75 198.08 L455.00 198.07 L455.25 198.06 L455.50 198.04 L455.75 198.03 L456.00 198.01 L456.25 198.00 L456.50 197.98 L456.75 197.96 L457.00 197.94 L457.25 197.92 L457.50 197.90 L457.75 197.88 L458.00 197.85 L458.25 197.83 L458.50 197.80 L458.75 197.77 L459.00 197.75 L459.25 197.72 L459.50 197.69 L459.75 197.66 L460.00 197.63 L460.25 197.60 L460.50 197.57 L460.75 197.53 L461.00 197.50 L461.25 197.47 L461.50 197.44 L461.75 197.41 L462.00 197.38 L462.25 197.33 L462.50 197.23 L462.75 196.88 L463.00 195.94 L463.25 194.25 L463.50 192.48 L463.75 191.91 L464.00 193.02 L464.25 194.76 L464.50 195.93 L464.75 196.22 L465.00 196.05 L465.25 195.88 L465.50 195.95 L465.75 196.21 L466.00 196.38 L466.25 196.08 L466.50 195.11 L466.75 193.85 L467.00 193.25 L467.25 193.85 L467.50 195.11 L467.75 196.07 L468.00 196.38 L468.25 196.28 L468.50 196.13 L468.75 196.15 L469.00 196.28 L469.25 196.25 L469.50 195.77 L469.75 194.93 L470.00 194.28 L470.25 194.37 L470.50 195.16 L470.75 196.05 L471.00 196.60 L471.25 196.78 L471.50 196.76 L471.75 196.71 L472.00 196.70 L472.25 196.77 L472.50 196.91 L472.75 197.08 L473.00 197.26 L473.25 197.42 L473.50 197.55 L473.75 197.64 L474.00 197.71 L474.25 197.76 L474.50 197.79 L474.75 197.82 L475.00 197.85 L475.25 197.88 L475.50 197.90 L475.75 197.92 L476.00 197.94 L476.25 197.96 L476.50 197.98 L476.75 198.00 L477.00 198.01 L477.25 198.03 L477.50 198.04 L477.75 198.06 L478.00 198.07 L478.25 198.08 L478.50 198.09 L478.75 198.10 L479.00 198.11 L479.25 198.12 L479.50 198.13 L479.75 198.14 L480.00 198.14 L480.25 198.15 L480.50 198.15 L480.75 198.16 L481.00 198.16 L481.25 198.17 L481.50 198.17 L481.75 198.18 L482.00 198.18 L482.25 198.18 L482.50 198.18 L482.75 198.19 L483.00 198.19 L483.25 198.19 L483.50 198.19 L483.75 198.19 L484.00 198.19 L484.25 198.19 L484.50 198.19 L484.75 198.20 L485.00 198.20 L485 198.3 L450 198.3 Z" fill="#1a1a1a" stroke="none"/>
</g>
<rect x="321.8" y="56.8" width="202.8" height="141.5" fill="none" stroke="#2a2a2a" stroke-width="1.1"/>
<line x1="350.77" y1="194.5" x2="350.77" y2="198.3" stroke="#2a2a2a" stroke-width="0.8"/>
<line x1="379.74" y1="194.5" x2="379.74" y2="198.3" stroke="#2a2a2a" stroke-width="0.8"/>
<line x1="408.71" y1="194.5" x2="408.71" y2="198.3" stroke="#2a2a2a" stroke-width="0.8"/>
<line x1="437.69" y1="194.5" x2="437.69" y2="198.3" stroke="#2a2a2a" stroke-width="0.8"/>
<line x1="466.66" y1="194.5" x2="466.66" y2="198.3" stroke="#2a2a2a" stroke-width="0.8"/>
<line x1="495.63" y1="194.5" x2="495.63" y2="198.3" stroke="#2a2a2a" stroke-width="0.8"/>
<text class="sf" x="321.80" y="210.2" font-size="9.2" text-anchor="middle" textLength="12.9" lengthAdjust="spacingAndGlyphs">500</text>
<text class="sf" x="350.77" y="210.2" font-size="9.2" text-anchor="middle" textLength="17.0" lengthAdjust="spacingAndGlyphs">1000</text>
<text class="sf" x="379.74" y="210.2" font-size="9.2" text-anchor="middle" textLength="17.0" lengthAdjust="spacingAndGlyphs">1500</text>
<text class="sf" x="408.71" y="210.2" font-size="9.2" text-anchor="middle" textLength="17.0" lengthAdjust="spacingAndGlyphs">2000</text>
<text class="sf" x="437.69" y="210.2" font-size="9.2" text-anchor="middle" textLength="17.0" lengthAdjust="spacingAndGlyphs">2500</text>
<text class="sf" x="466.66" y="210.2" font-size="9.2" text-anchor="middle" textLength="17.0" lengthAdjust="spacingAndGlyphs">3000</text>
<text class="sf" x="495.63" y="210.2" font-size="9.2" text-anchor="middle" textLength="17.0" lengthAdjust="spacingAndGlyphs">3500</text>
<text class="sf" x="524.60" y="210.2" font-size="9.2" text-anchor="middle" textLength="17.0" lengthAdjust="spacingAndGlyphs">4000</text>
<text class="sf" x="278.1" y="64.25" font-size="9.4" textLength="31.4" lengthAdjust="spacingAndGlyphs">1.50×10</text>
<text class="sf" x="310.0" y="60.65" font-size="4.8">6</text>
<text class="sf" x="278.1" y="87.85" font-size="9.4" textLength="31.4" lengthAdjust="spacingAndGlyphs">1.25×10</text>
<text class="sf" x="310.0" y="84.25" font-size="4.8">6</text>
<text class="sf" x="278.1" y="110.95" font-size="9.4" textLength="31.4" lengthAdjust="spacingAndGlyphs">1.00×10</text>
<text class="sf" x="310.0" y="107.35" font-size="4.8">6</text>
<text class="sf" x="278.1" y="134.05" font-size="9.4" textLength="31.4" lengthAdjust="spacingAndGlyphs">7.50×10</text>
<text class="sf" x="310.0" y="130.45" font-size="4.8">5</text>
<text class="sf" x="278.1" y="157.05" font-size="9.4" textLength="31.4" lengthAdjust="spacingAndGlyphs">5.00×10</text>
<text class="sf" x="310.0" y="153.45" font-size="4.8">5</text>
<text class="sf" x="278.1" y="180.05" font-size="9.4" textLength="31.4" lengthAdjust="spacingAndGlyphs">2.50×10</text>
<text class="sf" x="310.0" y="176.45" font-size="4.8">5</text>
<text class="sf" x="295.45" y="203.0" font-size="9.4" text-anchor="middle">0</text>
<text class="sf" x="422.1" y="46.0" font-size="9.8" text-anchor="middle" textLength="73.2" lengthAdjust="spacingAndGlyphs">Infrared Spectra</text>
<text class="sf" x="386.5" y="225.2" font-size="9.8" textLength="66.6" lengthAdjust="spacingAndGlyphs">Frequency (cm</text>
<text class="sf" x="453.2" y="221.9" font-size="5.4" textLength="5.6" lengthAdjust="spacingAndGlyphs">-1</text>
<text class="sf" x="458.8" y="225.2" font-size="9.8">)</text>
<text class="sf" transform="translate(269.3 124) rotate(-90)" font-size="10" text-anchor="middle" textLength="66" lengthAdjust="spacingAndGlyphs">Intensity (arb.)</text>
<text class="dj" x="414.80" y="70.80" font-size="10.00" fill="#d6992b" textLength="53.40" lengthAdjust="spacingAndGlyphs">ReaxFF-iw</text>
<text class="dj" x="415.60" y="96.30" font-size="10.00" fill="#9c1f9c" textLength="51.50" lengthAdjust="spacingAndGlyphs">ReaxFF-lg</text>
<text class="dj" x="408.00" y="120.00" font-size="10.00" fill="#2a7a2a" textLength="68.00" lengthAdjust="spacingAndGlyphs">ReaxFF-2018</text>
<text class="dj" x="407.50" y="142.20" font-size="10.00" fill="#2c3cf4" textLength="68.50" lengthAdjust="spacingAndGlyphs">ReaxFF-2014</text>
<text class="dj" x="406.00" y="165.70" font-size="10.00" fill="#ee1c24" textLength="71.30" lengthAdjust="spacingAndGlyphs">Gen1.9 NNRF</text>
<text class="dj" x="406.10" y="186.20" font-size="10.00" fill="#2a2a2a" textLength="59.70" lengthAdjust="spacingAndGlyphs">Experiment</text>
<text class="dj" x="466.3" y="182.6" font-size="6.2" fill="#2a2a2a" textLength="11.4" lengthAdjust="spacingAndGlyphs">a,b</text>
</g>
</svg>
</body>
</html>
